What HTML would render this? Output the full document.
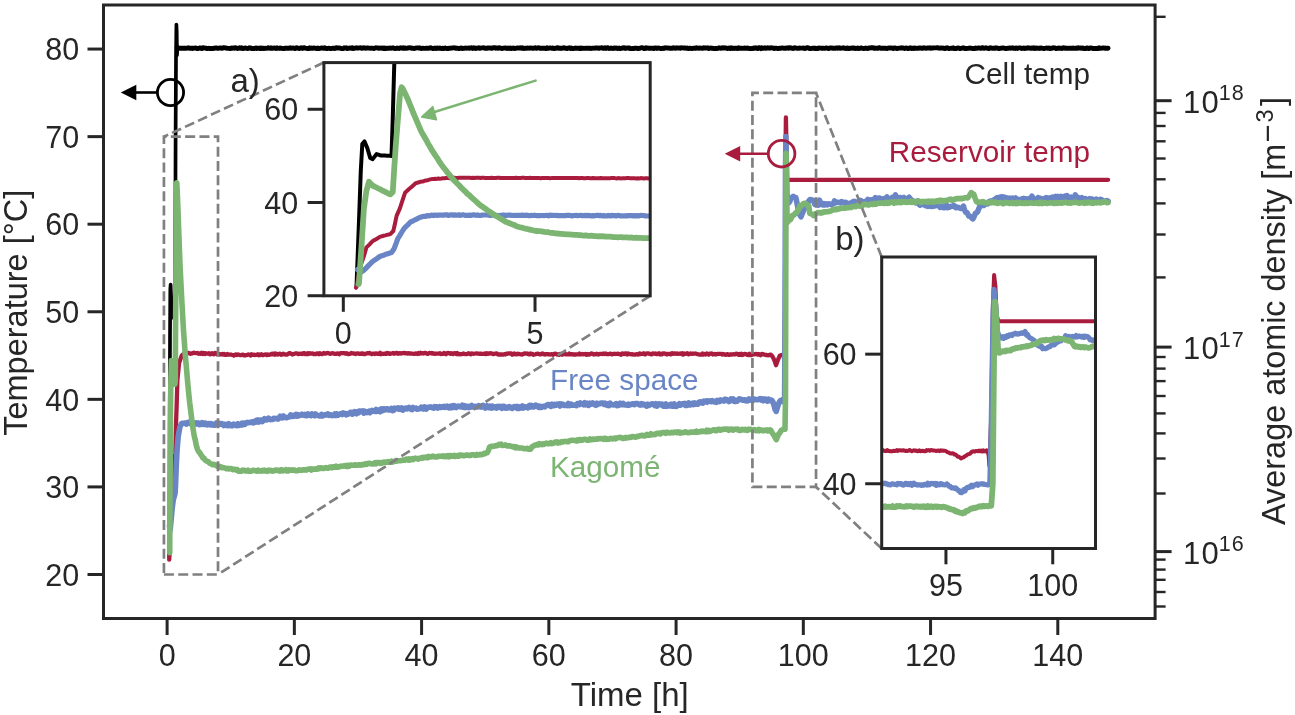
<!DOCTYPE html>
<html><head><meta charset="utf-8"><style>
html,body{margin:0;padding:0;background:#fff;}
body{width:1295px;height:715px;overflow:hidden;}
svg{display:block;will-change:transform;font-family:"Liberation Sans", sans-serif;}
</style></head><body>
<svg width="1295" height="715" viewBox="0 0 1295 715">
<rect x="0" y="0" width="1295" height="715" fill="#fff"/>
<defs><clipPath id="cm"><rect x="103.5" y="5.0" width="1051.6" height="613.5"/></clipPath>
<clipPath id="ca"><rect x="323.90" y="62.60" width="326.30" height="233.20"/></clipPath>
<clipPath id="cb"><rect x="881.70" y="257.00" width="213.80" height="291.50"/></clipPath></defs>
<g clip-path="url(#cm)">
<path d="M169.3 557.1L169.7 434.1L170.0 339.3L170.3 289.4L170.6 284.6L171.1 296.5L171.6 315.5L172.0 317.8L172.6 308.4L173.2 310.8L175.1 311.8L175.3 244.3L175.6 136.6L176.0 57.8L176.4 24.5L176.7 31.5L177.0 55.2L177.4 46.4L178.2 48.2" stroke="#000" stroke-width="3.7" fill="none" stroke-linejoin="round" stroke-linecap="round"/>
<path d="M177.3 47.3L178.2 48.2L179.3 48.2L180.3 48.2L181.3 48.2L182.3 48.2L183.3 48.2L184.4 48.2L185.4 48.2L186.4 48.2L187.4 48.1L188.4 47.8L189.4 48.2L190.5 48.2L191.5 48.1L192.5 48.5L193.5 48.2L194.5 48.1L195.6 47.9L196.6 48.5L197.6 48.4L198.6 48.5L199.6 47.9L200.6 48.0L201.7 48.6L202.7 47.8L203.7 47.8L204.7 48.0L205.7 48.1L206.8 48.5L207.8 48.6L208.8 48.2L209.8 48.6L210.8 48.5L211.9 48.4L212.9 48.6L213.9 48.2L214.9 48.2L215.9 47.9L216.9 48.2L218.0 48.1L219.0 48.2L220.0 48.0L221.0 48.2L222.0 48.4L223.1 47.7L224.1 47.8L225.1 47.9L226.1 48.0L227.1 48.3L228.1 48.4L229.2 48.4L230.2 48.6L231.2 48.0L232.2 48.3L233.2 47.9L234.3 48.3L235.3 47.8L236.3 47.9L237.3 48.6L238.3 48.4L239.3 47.8L240.4 48.2L241.4 47.8L242.4 48.3L243.4 48.6L244.4 48.1L245.5 47.9L246.5 48.4L247.5 48.5L248.5 48.3L249.5 47.8L250.6 48.0L251.6 48.5L252.6 48.4L253.6 48.5L254.6 48.6L255.6 47.9L256.7 48.5L257.7 48.1L258.7 48.2L259.7 48.5L260.7 48.0L261.8 48.5L262.8 48.1L263.8 48.5L264.8 48.3L265.8 48.4L266.8 48.4L267.9 47.8L268.9 47.9L269.9 48.4L270.9 47.8L271.9 48.4L273.0 48.3L274.0 47.9L275.0 48.1L276.0 48.5L277.0 47.8L278.0 48.4L279.1 48.4L280.1 47.9L281.1 48.3L282.1 48.4L283.1 48.6L284.2 48.5L285.2 48.1L286.2 48.4L287.2 48.1L288.2 48.3L289.3 48.2L290.3 47.8L291.3 48.2L292.3 48.1L293.3 47.9L294.3 48.5L295.4 48.5L296.4 47.8L297.4 47.9L298.4 48.4L299.4 48.5L300.5 48.0L301.5 47.8L302.5 48.4L303.5 47.8L304.5 47.8L305.5 48.1L306.6 48.3L307.6 48.5L308.6 48.6L309.6 47.8L310.6 48.4L311.7 48.0L312.7 48.4L313.7 47.9L314.7 48.1L315.7 48.4L316.7 48.5L317.8 48.0L318.8 48.6L319.8 48.4L320.8 48.1L321.8 47.9L322.9 48.1L323.9 48.4L324.9 47.8L325.9 48.4L326.9 48.6L328.0 48.4L329.0 48.2L330.0 48.6L331.0 48.5L332.0 48.3L333.0 48.1L334.1 48.5L335.1 48.3L336.1 47.8L337.1 47.8L338.1 48.0L339.2 48.0L340.2 48.1L341.2 48.5L342.2 48.6L343.2 48.6L344.2 47.8L345.3 48.0L346.3 47.8L347.3 48.6L348.3 48.1L349.3 48.2L350.4 48.0L351.4 48.3L352.4 47.7L353.4 48.6L354.4 48.1L355.4 48.0L356.5 47.8L357.5 48.0L358.5 48.0L359.5 47.9L360.5 47.8L361.6 48.3L362.6 48.0L363.6 47.8L364.6 47.9L365.6 48.3L366.7 47.9L367.7 47.9L368.7 48.1L369.7 48.1L370.7 48.3L371.7 48.1L372.8 48.1L373.8 48.6L374.8 48.1L375.8 47.8L376.8 47.9L377.9 48.0L378.9 48.3L379.9 48.0L380.9 48.1L381.9 48.2L382.9 47.9L384.0 48.5L385.0 48.0L386.0 48.6L387.0 48.1L388.0 48.2L389.1 48.4L390.1 48.0L391.1 48.2L392.1 48.1L393.1 47.8L394.1 48.4L395.2 48.6L396.2 48.4L397.2 48.0L398.2 48.4L399.2 48.5L400.3 47.8L401.3 48.0L402.3 48.2L403.3 47.8L404.3 48.3L405.4 48.0L406.4 48.4L407.4 48.2L408.4 47.9L409.4 47.8L410.4 47.9L411.5 48.3L412.5 48.1L413.5 48.3L414.5 48.5L415.5 48.2L416.6 47.9L417.6 47.9L418.6 48.0L419.6 47.8L420.6 48.4L421.6 48.5L422.7 48.2L423.7 48.4L424.7 48.4L425.7 48.3L426.7 48.1L427.8 48.2L428.8 48.3L429.8 47.9L430.8 47.8L431.8 48.2L432.8 48.6L433.9 48.6L434.9 47.9L435.9 48.6L436.9 48.0L437.9 48.1L439.0 48.4L440.0 47.9L441.0 48.6L442.0 48.5L443.0 48.2L444.1 48.6L445.1 47.9L446.1 48.4L447.1 48.5L448.1 48.6L449.1 48.1L450.2 48.2L451.2 48.1L452.2 48.0L453.2 47.9L454.2 47.8L455.3 48.0L456.3 48.4L457.3 48.2L458.3 48.5L459.3 48.6L460.3 48.2L461.4 48.0L462.4 48.5L463.4 48.4L464.4 48.3L465.4 48.0L466.5 48.2L467.5 48.1L468.5 48.0L469.5 48.3L470.5 47.9L471.5 47.8L472.6 48.5L473.6 47.8L474.6 48.0L475.6 48.5L476.6 48.2L477.7 48.1L478.7 47.8L479.7 48.3L480.7 48.1L481.7 47.9L482.8 47.9L483.8 47.8L484.8 48.2L485.8 48.1L486.8 48.4L487.8 48.0L488.9 47.9L489.9 48.1L490.9 48.0L491.9 48.4L492.9 47.8L494.0 47.8L495.0 47.8L496.0 48.2L497.0 47.9L498.0 48.3L499.0 47.8L500.1 47.9L501.1 48.3L502.1 48.5L503.1 48.2L504.1 48.1L505.2 47.9L506.2 48.2L507.2 48.6L508.2 47.9L509.2 48.6L510.2 47.9L511.3 48.5L512.3 48.3L513.3 47.9L514.3 48.5L515.3 48.5L516.4 48.2L517.4 48.0L518.4 47.9L519.4 48.0L520.4 47.8L521.5 48.2L522.5 47.8L523.5 48.5L524.5 48.4L525.5 48.2L526.5 48.4L527.6 48.0L528.6 48.1L529.6 48.2L530.6 47.9L531.6 48.1L532.7 48.3L533.7 48.3L534.7 47.9L535.7 47.8L536.7 48.4L537.7 47.9L538.8 47.8L539.8 48.2L540.8 48.1L541.8 48.4L542.8 48.2L543.9 48.2L544.9 48.1L545.9 48.6L546.9 47.8L547.9 48.2L548.9 48.3L550.0 47.9L551.0 48.1L552.0 48.2L553.0 48.0L554.0 48.6L555.1 48.2L556.1 48.3L557.1 47.8L558.1 47.8L559.1 48.4L560.2 48.2L561.2 48.5L562.2 48.2L563.2 47.9L564.2 47.8L565.2 48.2L566.3 48.3L567.3 48.5L568.3 48.1L569.3 47.8L570.3 48.5L571.4 47.9L572.4 48.6L573.4 48.5L574.4 48.4L575.4 48.0L576.4 48.3L577.5 48.3L578.5 48.1L579.5 48.5L580.5 48.0L581.5 48.5L582.6 48.2L583.6 48.4L584.6 48.4L585.6 48.2L586.6 48.2L587.7 48.3L588.7 48.3L589.7 48.2L590.7 48.5L591.7 48.4L592.7 48.1L593.8 48.1L594.8 48.2L595.8 47.9L596.8 48.1L597.8 47.9L598.9 48.4L599.9 48.0L600.9 47.9L601.9 47.8L602.9 48.3L603.9 48.3L605.0 47.8L606.0 48.4L607.0 47.7L608.0 47.8L609.0 48.5L610.1 48.4L611.1 48.0L612.1 48.4L613.1 48.5L614.1 47.9L615.1 48.3L616.2 47.9L617.2 48.5L618.2 48.3L619.2 48.0L620.2 48.6L621.3 48.4L622.3 48.0L623.3 47.8L624.3 47.8L625.3 48.5L626.4 48.2L627.4 48.0L628.4 48.2L629.4 48.0L630.4 48.5L631.4 48.6L632.5 48.5L633.5 48.6L634.5 48.1L635.5 48.2L636.5 48.1L637.6 48.5L638.6 48.5L639.6 48.4L640.6 47.9L641.6 47.8L642.6 47.8L643.7 48.5L644.7 48.6L645.7 47.8L646.7 48.2L647.7 48.0L648.8 48.3L649.8 48.2L650.8 48.2L651.8 48.2L652.8 48.1L653.8 48.6L654.9 48.0L655.9 47.9L656.9 48.5L657.9 48.2L658.9 48.0L660.0 48.3L661.0 48.5L662.0 48.5L663.0 48.2L664.0 48.6L665.1 47.8L666.1 47.9L667.1 48.0L668.1 47.9L669.1 48.1L670.1 48.3L671.2 48.1L672.2 48.2L673.2 47.8L674.2 47.9L675.2 48.4L676.3 47.8L677.3 48.0L678.3 47.9L679.3 47.9L680.3 48.3L681.3 47.8L682.4 47.9L683.4 48.0L684.4 48.0L685.4 48.0L686.4 48.3L687.5 48.0L688.5 48.6L689.5 48.3L690.5 48.2L691.5 48.6L692.5 48.3L693.6 48.1L694.6 48.1L695.6 48.4L696.6 47.8L697.6 48.0L698.7 48.3L699.7 48.0L700.7 48.1L701.7 48.2L702.7 48.3L703.8 47.7L704.8 48.1L705.8 48.0L706.8 48.0L707.8 47.8L708.8 48.6L709.9 48.1L710.9 48.0L711.9 48.4L712.9 48.3L713.9 48.6L715.0 48.5L716.0 48.3L717.0 48.5L718.0 48.4L719.0 47.8L720.0 48.1L721.1 48.2L722.1 47.8L723.1 48.1L724.1 47.8L725.1 48.1L726.2 47.9L727.2 48.6L728.2 48.1L729.2 48.0L730.2 48.6L731.2 47.8L732.3 48.5L733.3 48.2L734.3 48.5L735.3 48.2L736.3 48.1L737.4 48.6L738.4 47.8L739.4 48.3L740.4 48.2L741.4 48.1L742.5 48.3L743.5 48.4L744.5 48.0L745.5 48.1L746.5 48.4L747.5 48.0L748.6 48.4L749.6 48.6L750.6 48.4L751.6 48.6L752.6 48.5L753.7 48.0L754.7 48.3L755.7 47.8L756.7 48.0L757.7 48.6L758.7 47.8L759.8 47.8L760.8 48.6L761.8 47.8L762.8 48.2L763.8 48.2L764.9 47.8L765.9 48.4L766.9 48.2L767.9 47.8L768.9 48.0L769.9 48.2L771.0 47.8L772.0 47.9L773.0 48.1L774.0 48.5L775.0 48.1L776.1 48.2L777.1 48.4L778.1 48.6L779.1 48.2L780.1 48.5L781.2 48.2L782.2 48.0L783.2 48.2L784.2 48.4L785.2 48.1L786.2 48.3L787.3 47.9L788.3 48.2L789.3 47.7L790.3 47.8L791.3 48.0L792.4 48.4L793.4 48.5L794.4 47.8L795.4 47.9L796.4 48.1L797.4 48.3L798.5 48.4L799.5 48.0L800.5 48.1L801.5 48.1L802.5 48.1L803.6 48.0L804.6 48.5L805.6 48.4L806.6 47.8L807.6 47.8L808.6 47.9L809.7 48.6L810.7 48.6L811.7 48.4L812.7 48.2L813.7 48.1L814.8 48.5L815.8 48.1L816.8 48.6L817.8 48.5L818.8 48.0L819.9 48.1L820.9 48.1L821.9 48.3L822.9 48.2L823.9 48.4L824.9 48.3L826.0 48.0L827.0 47.9L828.0 48.6L829.0 48.5L830.0 47.9L831.1 48.1L832.1 47.9L833.1 48.4L834.1 48.3L835.1 48.4L836.1 47.9L837.2 48.3L838.2 48.0L839.2 47.8L840.2 48.3L841.2 48.1L842.3 48.0L843.3 47.8L844.3 48.2L845.3 48.3L846.3 48.5L847.3 47.9L848.4 48.6L849.4 48.5L850.4 48.1L851.4 48.2L852.4 48.0L853.5 48.4L854.5 47.9L855.5 48.6L856.5 48.4L857.5 48.0L858.6 48.6L859.6 48.4L860.6 48.0L861.6 48.0L862.6 48.4L863.6 48.5L864.7 48.3L865.7 48.0L866.7 48.3L867.7 48.5L868.7 48.0L869.8 48.1L870.8 47.8L871.8 47.8L872.8 47.8L873.8 48.2L874.8 47.9L875.9 48.4L876.9 48.3L877.9 48.3L878.9 47.8L879.9 47.8L881.0 48.4L882.0 48.3L883.0 48.3L884.0 48.3L885.0 48.3L886.0 48.3L887.1 48.5L888.1 48.1L889.1 47.9L890.1 48.1L891.1 47.9L892.2 48.1L893.2 48.5L894.2 48.0L895.2 47.9L896.2 48.4L897.3 48.6L898.3 48.2L899.3 48.1L900.3 48.1L901.3 47.8L902.3 48.1L903.4 47.9L904.4 48.6L905.4 48.1L906.4 47.9L907.4 48.5L908.5 48.6L909.5 48.0L910.5 47.8L911.5 48.5L912.5 48.1L913.5 48.5L914.6 48.0L915.6 48.1L916.6 48.4L917.6 48.4L918.6 48.0L919.7 48.2L920.7 48.0L921.7 48.3L922.7 48.3L923.7 47.8L924.7 48.0L925.8 48.2L926.8 48.2L927.8 48.0L928.8 48.0L929.8 47.8L930.9 48.3L931.9 47.9L932.9 48.0L933.9 47.9L934.9 47.9L936.0 47.9L937.0 47.8L938.0 47.8L939.0 48.1L940.0 48.2L941.0 48.0L942.1 47.9L943.1 48.3L944.1 48.3L945.1 48.5L946.1 48.0L947.2 47.8L948.2 48.3L949.2 48.5L950.2 48.4L951.2 48.3L952.2 48.4L953.3 47.8L954.3 48.6L955.3 48.4L956.3 48.5L957.3 48.1L958.4 47.9L959.4 48.5L960.4 48.6L961.4 48.2L962.4 48.1L963.4 47.8L964.5 48.6L965.5 48.5L966.5 48.5L967.5 48.4L968.5 48.4L969.6 48.0L970.6 48.1L971.6 48.4L972.6 48.5L973.6 48.4L974.7 48.5L975.7 48.0L976.7 48.3L977.7 48.1L978.7 47.9L979.7 48.2L980.8 48.4L981.8 47.8L982.8 47.8L983.8 48.3L984.8 48.1L985.9 47.8L986.9 48.2L987.9 48.4L988.9 48.6L989.9 47.8L990.9 47.9L992.0 48.3L993.0 48.2L994.0 48.2L995.0 48.4L996.0 47.8L997.1 48.0L998.1 48.4L999.1 48.6L1000.1 48.2L1001.1 48.3L1002.1 47.9L1003.2 48.0L1004.2 48.1L1005.2 48.5L1006.2 48.5L1007.2 48.3L1008.3 48.4L1009.3 47.9L1010.3 48.2L1011.3 48.1L1012.3 47.8L1013.4 48.4L1014.4 48.2L1015.4 48.5L1016.4 47.9L1017.4 48.6L1018.4 47.9L1019.5 47.9L1020.5 47.9L1021.5 48.5L1022.5 48.4L1023.5 48.0L1024.6 48.5L1025.6 48.2L1026.6 48.2L1027.6 47.8L1028.6 48.1L1029.6 47.9L1030.7 48.4L1031.7 47.9L1032.7 48.3L1033.7 47.8L1034.7 48.5L1035.8 47.9L1036.8 48.4L1037.8 48.1L1038.8 48.2L1039.8 48.5L1040.8 47.9L1041.9 48.3L1042.9 48.4L1043.9 48.6L1044.9 48.4L1045.9 48.2L1047.0 48.0L1048.0 48.3L1049.0 48.0L1050.0 48.5L1051.0 48.3L1052.1 48.2L1053.1 47.8L1054.1 47.9L1055.1 48.0L1056.1 48.6L1057.1 48.3L1058.2 48.0L1059.2 48.4L1060.2 48.1L1061.2 48.2L1062.2 48.6L1063.3 47.8L1064.3 47.9L1065.3 48.4L1066.3 48.1L1067.3 48.4L1068.3 48.3L1069.4 48.1L1070.4 48.4L1071.4 48.3L1072.4 48.3L1073.4 48.0L1074.5 48.4L1075.5 48.4L1076.5 48.0L1077.5 48.3L1078.5 47.8L1079.5 48.1L1080.6 48.0L1081.6 48.3L1082.6 47.9L1083.6 48.5L1084.6 48.5L1085.7 48.5L1086.7 48.0L1087.7 48.0L1088.7 48.5L1089.7 48.3L1090.8 47.9L1091.8 48.1L1092.8 48.5L1093.8 48.4L1094.8 48.5L1095.8 48.5L1096.9 48.3L1097.9 48.6L1098.9 47.8L1099.9 48.2L1100.9 48.2L1102.0 48.1L1103.0 48.0L1104.0 47.9L1105.0 48.3L1106.0 48.3L1107.0 48.3L1108.1 48.2" stroke="#000" stroke-width="4.9" fill="none" stroke-linejoin="round" stroke-linecap="round"/>
<path d="M169.2 559.6L169.3 557.8L170.0 517.6L170.5 500.3L170.9 483.8L172.0 471.9L173.2 463.4L174.9 458.7L175.4 452.9L176.0 424.5L176.5 410.4L177.4 380.4L179.1 362.9L180.5 359.1L181.8 355.4L182.9 354.6L184.1 353.7L185.3 352.9L186.3 353.0L187.3 352.8L188.4 352.8L189.4 353.5L190.4 353.8L191.4 353.3L192.4 353.4L193.5 352.7L194.5 352.9L195.5 353.1L196.5 353.1L197.6 353.0L198.6 353.8L199.6 353.4L200.6 353.8L201.6 352.8L202.7 354.0L203.7 353.0L204.7 354.0L205.7 353.2L206.8 353.7L207.8 353.7L208.8 353.1L209.8 354.3L210.8 354.2L211.9 353.1L212.9 353.7L213.9 354.3L214.9 353.0L216.0 353.1L217.0 354.3L218.0 353.8L219.1 354.0L220.1 354.5L221.2 354.3L222.2 353.9L223.3 354.6L224.4 354.0L225.4 354.9L226.5 354.8L227.5 354.0L228.6 354.7L229.7 354.7L230.7 354.5L231.8 354.8L232.9 355.0L233.9 355.6L235.0 354.7L236.0 354.4L237.1 355.1L238.1 354.4L239.1 354.8L240.2 355.2L241.2 355.2L242.2 354.7L243.2 354.7L244.3 355.5L245.3 355.3L246.3 355.1L247.3 354.9L248.3 354.4L249.4 354.8L250.4 355.5L251.4 354.3L252.4 354.9L253.5 354.7L254.5 355.1L255.5 354.8L256.5 354.8L257.5 354.3L258.6 355.2L259.6 354.5L260.6 355.0L261.6 354.3L262.7 355.2L263.7 354.8L264.7 354.7L265.7 354.3L266.7 355.1L267.8 354.5L268.8 354.8L269.8 354.7L270.8 354.4L271.9 353.7L272.9 354.3L273.9 353.6L274.9 354.7L275.9 353.6L277.0 354.4L278.0 354.6L279.0 353.8L280.0 353.6L281.1 354.8L282.1 354.4L283.1 353.7L284.1 354.3L285.1 354.4L286.2 354.7L287.2 354.6L288.2 353.8L289.2 353.2L290.3 353.2L291.3 353.9L292.3 354.5L293.3 354.1L294.4 353.8L295.4 353.4L296.4 353.3L297.4 353.6L298.4 354.2L299.4 353.7L300.5 353.8L301.5 353.6L302.5 354.1L303.5 353.1L304.5 353.2L305.5 354.2L306.6 354.1L307.6 353.2L308.6 354.1L309.6 353.1L310.6 353.7L311.7 353.5L312.7 353.5L313.7 354.1L314.7 354.0L315.7 354.1L316.7 353.5L317.8 353.5L318.8 354.2L319.8 353.2L320.8 353.8L321.8 354.1L322.9 353.8L323.9 353.0L324.9 353.6L325.9 353.5L326.9 353.1L327.9 353.0L329.0 353.3L330.0 353.8L331.0 353.6L332.0 353.1L333.0 353.3L334.1 353.6L335.1 353.9L336.1 353.8L337.1 353.3L338.1 353.6L339.1 354.3L340.2 353.4L341.2 353.1L342.2 353.2L343.2 353.1L344.2 353.1L345.2 353.6L346.3 353.2L347.3 353.8L348.3 354.2L349.3 353.8L350.3 353.9L351.4 353.0L352.4 353.3L353.4 353.5L354.4 353.4L355.4 354.1L356.4 353.5L357.5 353.3L358.5 353.7L359.5 353.9L360.5 353.7L361.5 353.8L362.6 353.3L363.6 354.1L364.6 354.1L365.6 353.8L366.6 353.3L367.6 353.2L368.7 353.3L369.7 352.9L370.7 353.7L371.7 354.2L372.7 353.6L373.8 353.6L374.8 354.0L375.8 353.3L376.8 353.7L377.8 353.9L378.8 353.8L379.9 352.9L380.9 354.2L381.9 353.7L382.9 353.8L383.9 353.9L384.9 353.6L386.0 353.9L387.0 352.9L388.0 353.5L389.0 353.2L390.0 353.9L391.1 353.5L392.1 353.3L393.1 353.0L394.1 353.8L395.1 353.5L396.1 353.0L397.2 353.0L398.2 353.8L399.2 353.4L400.2 353.1L401.2 353.6L402.3 353.2L403.3 353.2L404.3 352.8L405.3 353.3L406.3 353.2L407.3 353.6L408.4 353.1L409.4 353.7L410.4 353.4L411.4 353.6L412.4 353.7L413.5 353.9L414.5 353.8L415.5 353.3L416.5 353.7L417.5 354.0L418.5 353.0L419.6 353.7L420.6 352.8L421.6 353.4L422.6 353.2L423.6 353.5L424.6 352.9L425.7 352.8L426.7 353.7L427.7 353.9L428.7 353.2L429.7 352.9L430.8 353.3L431.8 353.0L432.8 353.6L433.8 353.3L434.8 353.8L435.8 353.6L436.9 353.6L437.9 353.6L438.9 353.6L439.9 353.1L440.9 354.0L442.0 353.9L443.0 353.9L444.0 352.9L445.0 353.5L446.0 354.2L447.0 353.1L448.1 353.0L449.1 353.1L450.1 353.8L451.1 353.2L452.1 353.8L453.2 354.1L454.2 353.1L455.2 353.1L456.2 354.0L457.2 353.1L458.2 354.3L459.3 353.9L460.3 354.3L461.3 354.1L462.3 354.1L463.3 353.4L464.3 353.9L465.4 354.1L466.4 354.1L467.4 353.9L468.4 353.2L469.4 353.5L470.5 354.3L471.5 353.4L472.5 353.7L473.5 353.8L474.5 353.7L475.5 353.5L476.6 353.3L477.6 353.7L478.6 353.6L479.6 353.8L480.6 353.6L481.7 353.9L482.7 353.9L483.7 353.8L484.7 353.5L485.7 354.1L486.7 353.2L487.8 353.8L488.8 353.3L489.8 353.6L490.8 353.2L491.8 353.6L492.8 354.0L493.9 354.0L494.9 353.7L495.9 353.5L496.9 353.4L497.9 354.4L499.0 354.5L500.0 354.5L501.0 354.5L502.0 354.5L503.0 354.6L504.0 354.3L505.1 354.5L506.1 353.7L507.1 353.8L508.1 353.3L509.1 353.3L510.2 353.6L511.2 353.4L512.2 354.7L513.2 354.4L514.2 353.4L515.2 354.0L516.3 354.4L517.3 353.7L518.3 354.1L519.3 354.0L520.3 354.3L521.4 354.4L522.4 354.6L523.4 353.9L524.4 353.4L525.4 353.4L526.4 353.7L527.5 353.5L528.5 354.3L529.5 354.4L530.5 353.5L531.5 354.0L532.5 353.9L533.6 354.8L534.6 354.5L535.6 354.2L536.6 353.8L537.6 353.7L538.7 353.8L539.7 354.4L540.7 354.4L541.7 353.7L542.7 353.5L543.7 354.2L544.8 354.6L545.8 354.0L546.8 354.2L547.8 354.4L548.8 354.2L549.9 354.6L550.9 354.4L551.9 354.1L552.9 354.8L553.9 354.2L554.9 353.6L556.0 353.9L557.0 354.6L558.0 354.3L559.0 354.8L560.0 353.9L561.1 354.0L562.1 354.7L563.1 354.1L564.1 354.1L565.1 354.1L566.1 354.4L567.2 354.4L568.2 354.4L569.2 353.5L570.2 354.4L571.2 354.2L572.2 354.2L573.3 354.6L574.3 354.3L575.3 354.6L576.3 354.4L577.3 354.3L578.4 354.4L579.4 353.5L580.4 354.4L581.4 354.4L582.4 353.9L583.4 354.3L584.5 354.1L585.5 353.9L586.5 354.7L587.5 353.9L588.5 354.7L589.6 354.5L590.6 353.7L591.6 353.4L592.6 353.8L593.6 354.5L594.6 354.2L595.7 354.4L596.7 353.6L597.7 354.4L598.7 354.5L599.7 353.9L600.8 353.9L601.8 353.9L602.8 354.1L603.8 353.4L604.8 354.1L605.8 353.4L606.9 354.2L607.9 354.1L608.9 354.2L609.9 353.7L610.9 353.7L611.9 354.4L613.0 354.0L614.0 353.7L615.0 354.0L616.0 353.8L617.0 353.8L618.1 353.7L619.1 354.2L620.1 354.3L621.1 354.7L622.1 353.4L623.1 353.6L624.2 354.1L625.2 353.3L626.2 353.4L627.2 354.5L628.2 353.5L629.3 354.1L630.3 354.2L631.3 354.3L632.3 354.1L633.3 354.6L634.3 354.6L635.4 354.5L636.4 354.2L637.4 354.4L638.4 354.5L639.4 353.5L640.5 354.1L641.5 353.9L642.5 353.8L643.5 353.3L644.5 354.4L645.5 354.3L646.6 353.4L647.6 353.3L648.6 353.3L649.6 353.9L650.6 354.1L651.6 354.3L652.7 353.3L653.7 353.5L654.7 353.8L655.7 353.5L656.7 354.2L657.8 353.8L658.8 353.3L659.8 354.4L660.8 353.7L661.8 354.3L662.8 353.4L663.9 353.4L664.9 353.6L665.9 353.9L666.9 354.5L667.9 353.8L669.0 354.0L670.0 354.0L671.0 354.4L672.0 353.2L673.0 353.8L674.0 353.7L675.1 353.3L676.1 353.8L677.1 353.3L678.1 353.8L679.1 353.8L680.2 353.4L681.2 354.0L682.2 353.3L683.2 354.5L684.2 353.5L685.3 353.8L686.3 353.7L687.3 353.2L688.3 354.3L689.3 354.1L690.3 353.5L691.4 353.6L692.4 353.9L693.4 353.6L694.4 353.7L695.4 353.5L696.5 353.8L697.5 354.2L698.5 354.3L699.5 354.6L700.5 354.6L701.6 354.7L702.6 353.4L703.6 354.6L704.6 353.9L705.6 354.6L706.7 353.4L707.7 354.0L708.7 354.6L709.7 353.7L710.7 353.6L711.8 353.5L712.8 354.5L713.8 354.3L714.8 353.9L715.8 354.5L716.9 354.1L717.9 353.9L718.9 353.8L719.9 353.8L720.9 353.9L721.9 354.5L723.0 353.9L724.0 354.3L725.0 354.7L726.0 354.9L727.0 354.1L728.1 354.5L729.1 354.9L730.1 354.3L731.1 354.4L732.1 354.6L733.2 354.2L734.2 354.3L735.2 354.3L736.2 353.7L737.2 353.8L738.3 354.7L739.3 353.9L740.3 354.7L741.3 353.8L742.3 355.0L743.4 354.7L744.4 353.8L745.4 354.2L746.4 354.2L747.4 354.9L748.4 355.0L749.5 353.8L750.5 355.1L751.5 355.0L752.5 354.6L753.5 354.1L754.6 354.3L755.6 353.8L756.6 354.2L757.6 354.6L758.6 354.0L759.7 354.8L760.7 355.2L761.7 354.0L762.7 354.1L763.7 354.4L764.8 354.7L765.8 355.0L766.8 355.0L767.8 355.3L768.8 355.2L769.9 354.7L770.9 354.7L772.1 355.9L773.4 358.2L774.7 361.1L776.0 365.2L777.9 359.9L779.8 355.6L780.8 355.3L781.8 354.9L782.9 354.9L783.9 354.7L784.2 361.7L784.4 374.8L785.0 311.8L785.5 154.1L785.9 117.4L786.2 132.3L786.6 171.7L787.1 179.8L787.2 179.8" stroke="#AA1C3E" stroke-width="4.3" fill="none" stroke-linejoin="round" stroke-linecap="round"/>
<path d="M787.1 179.8L788.1 179.8L789.1 179.8L790.2 179.8L791.2 179.8L792.2 179.8L793.2 179.8L794.2 179.8L795.2 179.8L796.3 179.8L797.3 179.8L798.3 179.8L799.3 179.8L800.3 179.8L801.4 179.8L802.4 179.8L803.4 179.8L804.4 179.8L805.4 179.8L806.5 179.8L807.5 179.8L808.5 179.8L809.5 179.8L810.5 179.8L811.6 179.8L812.6 179.8L813.6 179.8L814.6 179.8L815.6 179.8L816.6 179.8L817.7 179.8L818.7 179.8L819.7 179.8L820.7 179.8L821.7 179.8L822.8 179.8L823.8 179.8L824.8 179.8L825.8 179.8L826.8 179.8L827.9 179.8L828.9 179.8L829.9 179.8L830.9 179.8L831.9 179.8L832.9 179.8L834.0 179.8L835.0 179.8L836.0 179.8L837.0 179.8L838.0 179.8L839.1 179.8L840.1 179.8L841.1 179.8L842.1 179.8L843.1 179.8L844.2 179.8L845.2 179.8L846.2 179.8L847.2 179.8L848.2 179.8L849.3 179.8L850.3 179.8L851.3 179.8L852.3 179.8L853.3 179.8L854.3 179.8L855.4 179.8L856.4 179.8L857.4 179.8L858.4 179.8L859.4 179.8L860.5 179.8L861.5 179.8L862.5 179.8L863.5 179.8L864.5 179.8L865.6 179.8L866.6 179.8L867.6 179.8L868.6 179.8L869.6 179.8L870.7 179.8L871.7 179.8L872.7 179.8L873.7 179.8L874.7 179.8L875.7 179.8L876.8 179.8L877.8 179.8L878.8 179.8L879.8 179.8L880.8 179.8L881.9 179.8L882.9 179.8L883.9 179.8L884.9 179.8L885.9 179.8L887.0 179.8L888.0 179.8L889.0 179.8L890.0 179.8L891.0 179.8L892.0 179.8L893.1 179.8L894.1 179.8L895.1 179.8L896.1 179.8L897.1 179.8L898.2 179.8L899.2 179.8L900.2 179.8L901.2 179.8L902.2 179.8L903.3 179.8L904.3 179.8L905.3 179.8L906.3 179.8L907.3 179.8L908.4 179.8L909.4 179.8L910.4 179.8L911.4 179.8L912.4 179.8L913.4 179.8L914.5 179.8L915.5 179.8L916.5 179.8L917.5 179.8L918.5 179.8L919.6 179.8L920.6 179.8L921.6 179.8L922.6 179.8L923.6 179.8L924.7 179.8L925.7 179.8L926.7 179.8L927.7 179.8L928.7 179.8L929.7 179.8L930.8 179.8L931.8 179.8L932.8 179.8L933.8 179.8L934.8 179.8L935.9 179.8L936.9 179.8L937.9 179.8L938.9 179.8L939.9 179.8L941.0 179.8L942.0 179.8L943.0 179.8L944.0 179.8L945.0 179.8L946.1 179.8L947.1 179.8L948.1 179.8L949.1 179.8L950.1 179.8L951.1 179.8L952.2 179.8L953.2 179.8L954.2 179.8L955.2 179.8L956.2 179.8L957.3 179.8L958.3 179.8L959.3 179.8L960.3 179.8L961.3 179.8L962.4 179.8L963.4 179.8L964.4 179.8L965.4 179.8L966.4 179.8L967.5 179.8L968.5 179.8L969.5 179.8L970.5 179.8L971.5 179.8L972.5 179.8L973.6 179.8L974.6 179.8L975.6 179.8L976.6 179.8L977.6 179.8L978.7 179.8L979.7 179.8L980.7 179.8L981.7 179.8L982.7 179.8L983.8 179.8L984.8 179.8L985.8 179.8L986.8 179.8L987.8 179.8L988.8 179.8L989.9 179.8L990.9 179.8L991.9 179.8L992.9 179.8L993.9 179.8L995.0 179.8L996.0 179.8L997.0 179.8L998.0 179.8L999.0 179.8L1000.1 179.8L1001.1 179.8L1002.1 179.8L1003.1 179.8L1004.1 179.8L1005.2 179.8L1006.2 179.8L1007.2 179.8L1008.2 179.8L1009.2 179.8L1010.2 179.8L1011.3 179.8L1012.3 179.8L1013.3 179.8L1014.3 179.8L1015.3 179.8L1016.4 179.8L1017.4 179.8L1018.4 179.8L1019.4 179.8L1020.4 179.8L1021.5 179.8L1022.5 179.8L1023.5 179.8L1024.5 179.8L1025.5 179.8L1026.5 179.8L1027.6 179.8L1028.6 179.8L1029.6 179.8L1030.6 179.8L1031.6 179.8L1032.7 179.8L1033.7 179.8L1034.7 179.8L1035.7 179.8L1036.7 179.8L1037.8 179.8L1038.8 179.8L1039.8 179.8L1040.8 179.8L1041.8 179.8L1042.9 179.8L1043.9 179.8L1044.9 179.8L1045.9 179.8L1046.9 179.8L1047.9 179.8L1049.0 179.8L1050.0 179.8L1051.0 179.8L1052.0 179.8L1053.0 179.8L1054.1 179.8L1055.1 179.8L1056.1 179.8L1057.1 179.8L1058.1 179.8L1059.2 179.8L1060.2 179.8L1061.2 179.8L1062.2 179.8L1063.2 179.8L1064.2 179.8L1065.3 179.8L1066.3 179.8L1067.3 179.8L1068.3 179.8L1069.3 179.8L1070.4 179.8L1071.4 179.8L1072.4 179.8L1073.4 179.8L1074.4 179.8L1075.5 179.8L1076.5 179.8L1077.5 179.8L1078.5 179.8L1079.5 179.8L1080.6 179.8L1081.6 179.8L1082.6 179.8L1083.6 179.8L1084.6 179.8L1085.6 179.8L1086.7 179.8L1087.7 179.8L1088.7 179.8L1089.7 179.8L1090.7 179.8L1091.8 179.8L1092.8 179.8L1093.8 179.8L1094.8 179.8L1095.8 179.8L1096.9 179.8L1097.9 179.8L1098.9 179.8L1099.9 179.8L1100.9 179.8L1102.0 179.8L1103.0 179.8L1104.0 179.8L1105.0 179.8L1106.0 179.8L1107.0 179.8L1108.1 179.8" stroke="#AA1C3E" stroke-width="4.3" fill="none" stroke-linejoin="round" stroke-linecap="round"/>
<path d="M169.5 525.4L170.0 530.7L170.5 526.5L171.2 519.3L172.0 509.9L173.2 500.3L175.1 493.2L175.5 486.2L176.2 467.2L177.2 448.2L178.2 436.4L179.9 426.9L181.6 423.5L182.8 423.3L184.0 423.2L185.3 423.0L186.3 424.1L187.4 422.6L188.5 422.7L189.5 422.0L190.6 423.8L191.6 423.9L192.7 422.7L193.8 423.0L194.8 424.0L195.9 423.0L196.9 423.8L198.0 422.9L199.1 424.6L200.1 423.7L201.1 424.4L202.2 422.7L203.2 424.2L204.2 424.5L205.2 423.1L206.2 423.6L207.3 424.9L208.3 423.8L209.3 423.6L210.3 424.9L211.3 423.7L212.4 425.1L213.4 424.6L214.4 425.3L215.4 425.0L216.4 423.0L217.5 424.6L218.5 423.0L219.5 424.5L220.5 424.1L221.5 423.5L222.6 424.0L223.6 425.5L224.6 424.3L225.6 424.2L226.6 425.5L227.7 425.7L228.7 423.7L229.7 424.7L230.7 425.6L231.7 424.9L232.8 425.6L233.8 424.1L234.8 424.9L235.8 424.7L236.8 425.6L237.9 423.6L238.9 425.3L239.9 424.6L240.9 425.1L242.0 423.1L243.0 424.6L244.0 423.3L245.0 424.3L246.0 423.1L247.1 422.4L248.1 422.6L249.1 422.6L250.1 422.4L251.1 422.4L252.2 421.8L253.2 422.9L254.2 421.7L255.2 422.2L256.3 420.4L257.3 420.0L258.3 422.1L259.3 421.8L260.3 420.1L261.4 420.3L262.4 421.6L263.4 419.6L264.4 418.8L265.5 420.0L266.5 420.0L267.5 419.3L268.5 418.1L269.5 419.1L270.6 419.6L271.7 419.3L272.7 419.5L273.8 418.2L274.8 418.4L275.9 418.8L276.9 418.3L278.0 419.1L279.0 418.2L280.1 416.3L281.2 417.2L282.2 417.8L283.3 415.9L284.3 417.3L285.4 417.4L286.4 417.8L287.5 417.4L288.5 417.1L289.6 416.8L290.7 415.0L291.7 416.4L292.8 415.6L293.8 416.3L294.8 415.3L295.8 414.5L296.9 416.1L297.9 414.8L298.9 415.8L300.0 415.3L301.0 415.2L302.0 414.2L303.1 414.7L304.1 415.3L305.1 414.4L306.1 415.6L307.2 415.6L308.2 414.0L309.2 415.1L310.3 414.4L311.3 415.6L312.3 414.0L313.3 414.8L314.4 415.7L315.4 413.9L316.4 415.1L317.5 415.4L318.5 415.6L319.5 416.0L320.6 415.7L321.6 414.4L322.6 415.8L323.6 415.4L324.7 414.9L325.7 414.6L326.7 415.0L327.8 414.0L328.8 415.3L329.8 415.0L330.8 414.8L331.9 415.6L332.9 415.3L333.9 415.5L335.0 413.9L336.0 415.4L337.0 414.0L338.0 415.2L339.1 414.4L340.1 413.9L341.1 413.8L342.2 414.5L343.2 412.9L344.2 413.5L345.2 413.6L346.3 414.9L347.3 413.8L348.3 414.1L349.4 413.5L350.4 412.2L351.4 412.2L352.4 414.2L353.5 412.5L354.5 411.7L355.5 412.7L356.6 413.7L357.6 411.6L358.6 412.7L359.6 411.1L360.7 411.3L361.7 411.3L362.7 410.9L363.7 413.1L364.8 411.1L365.8 412.3L366.8 412.6L367.9 411.9L368.9 411.2L369.9 412.7L370.9 411.4L372.0 410.4L373.0 411.1L374.0 410.9L375.1 411.4L376.1 409.5L377.1 411.3L378.1 410.1L379.2 410.1L380.2 411.7L381.2 408.9L382.2 410.8L383.3 408.8L384.3 408.8L385.3 409.8L386.4 408.7L387.4 408.8L388.4 410.0L389.4 409.8L390.5 410.0L391.5 408.4L392.5 410.7L393.6 410.4L394.6 408.2L395.6 408.5L396.7 408.7L397.7 408.0L398.7 409.1L399.7 408.2L400.8 409.2L401.8 408.0L402.8 410.1L403.9 409.1L404.9 408.6L405.9 408.0L406.9 408.9L408.0 408.2L409.0 407.4L410.0 408.8L411.1 409.3L412.1 409.7L413.1 407.5L414.1 408.4L415.2 408.6L416.2 408.2L417.2 409.2L418.3 408.9L419.3 408.8L420.3 408.7L421.4 407.1L422.4 408.6L423.4 409.0L424.4 406.9L425.5 407.6L426.5 409.0L427.5 407.2L428.6 407.2L429.6 407.2L430.6 406.8L431.6 407.5L432.7 407.7L433.7 408.1L434.7 406.7L435.7 407.0L436.8 406.8L437.8 408.1L438.8 407.6L439.8 406.7L440.9 407.5L441.9 406.9L442.9 407.2L443.9 406.4L445.0 407.4L446.0 407.0L447.0 406.1L448.0 407.4L449.0 407.8L450.1 406.5L451.1 407.8L452.1 405.9L453.1 407.4L454.2 405.7L455.2 406.6L456.2 407.6L457.2 406.6L458.3 406.1L459.3 406.6L460.3 406.2L461.3 406.9L462.4 405.3L463.4 407.3L464.4 405.6L465.4 407.6L466.4 406.3L467.5 406.4L468.5 407.5L469.6 407.4L470.6 406.2L471.6 405.4L472.7 407.0L473.7 406.8L474.8 406.6L475.8 406.3L476.8 407.0L477.9 407.0L478.9 405.7L480.0 406.5L481.0 407.1L482.0 405.9L483.1 405.4L484.1 407.0L485.2 408.1L486.2 407.3L487.2 405.8L488.3 407.7L489.3 407.7L490.3 406.2L491.4 408.0L492.4 406.1L493.5 407.7L494.5 407.3L495.5 406.8L496.6 408.1L497.6 406.4L498.7 407.3L499.7 406.4L500.7 406.5L501.8 408.3L502.8 406.4L503.9 406.4L504.9 408.0L505.9 407.1L507.0 408.1L508.0 407.3L509.1 406.7L510.1 407.7L511.1 407.3L512.2 408.4L513.2 407.5L514.2 406.5L515.2 407.0L516.3 406.5L517.3 408.4L518.3 406.6L519.3 408.3L520.3 407.0L521.4 407.8L522.4 406.0L523.4 408.0L524.4 407.0L525.4 406.9L526.5 407.1L527.5 407.9L528.5 406.3L529.5 405.4L530.5 407.0L531.6 405.5L532.6 406.9L533.6 407.0L534.6 406.5L535.6 405.1L536.7 405.6L537.7 405.9L538.7 407.4L539.7 406.3L540.7 407.4L541.8 407.2L542.8 406.3L543.8 406.6L544.8 406.9L545.8 405.8L546.9 405.0L547.9 404.6L548.9 404.6L549.9 405.8L550.9 406.4L552.0 404.3L553.0 405.7L554.0 405.8L555.0 404.5L556.0 405.2L557.1 404.1L558.1 404.7L559.1 404.0L560.1 406.0L561.1 403.9L562.2 404.9L563.2 404.4L564.2 405.4L565.2 405.5L566.2 405.3L567.3 405.6L568.3 403.5L569.3 405.7L570.3 405.3L571.3 404.2L572.4 405.3L573.4 405.2L574.4 405.0L575.4 405.0L576.4 405.6L577.5 403.6L578.5 403.8L579.5 404.6L580.5 403.0L581.5 403.9L582.6 404.0L583.6 404.7L584.6 402.8L585.6 404.7L586.6 403.2L587.6 403.2L588.7 405.4L589.7 403.2L590.7 404.3L591.7 404.1L592.7 402.9L593.8 404.3L594.8 404.8L595.8 405.3L596.8 403.2L597.8 404.3L598.9 403.6L599.9 403.8L600.9 403.0L601.9 403.1L602.9 403.1L603.9 404.3L605.0 403.2L606.0 404.8L607.0 405.3L608.0 404.0L609.0 405.6L610.1 403.1L611.1 404.8L612.1 404.6L613.1 404.9L614.1 404.9L615.2 404.3L616.2 403.6L617.2 405.7L618.2 404.9L619.2 405.1L620.2 403.3L621.3 404.7L622.3 404.7L623.3 403.4L624.3 404.8L625.3 404.9L626.4 404.8L627.4 405.3L628.4 404.1L629.4 405.2L630.4 404.6L631.4 404.4L632.5 403.9L633.5 404.0L634.5 404.7L635.5 403.5L636.5 403.5L637.6 403.6L638.6 404.2L639.6 404.9L640.6 405.1L641.6 403.8L642.7 404.8L643.7 404.1L644.7 405.1L645.7 405.2L646.7 406.1L647.7 404.2L648.8 405.4L649.8 404.9L650.8 404.3L651.8 404.0L652.8 403.7L653.9 404.5L654.9 405.6L655.9 403.8L656.9 406.1L657.9 405.2L659.0 403.9L660.0 404.1L661.0 404.8L662.0 404.1L663.0 405.9L664.0 406.3L665.1 405.6L666.1 404.0L667.1 406.3L668.1 405.6L669.1 405.1L670.2 405.9L671.2 404.2L672.2 406.2L673.2 406.3L674.2 403.9L675.3 405.2L676.3 406.4L677.3 405.7L678.3 405.1L679.4 403.8L680.4 405.1L681.4 404.4L682.5 403.7L683.5 404.1L684.5 403.4L685.5 405.4L686.6 404.0L687.6 405.2L688.6 402.9L689.7 405.0L690.7 404.7L691.7 403.7L692.7 403.1L693.8 404.6L694.8 402.9L695.8 404.2L696.9 403.5L697.9 404.1L698.9 402.2L700.0 401.9L701.0 401.9L702.0 403.0L703.0 403.1L704.1 401.1L705.1 401.4L706.1 400.9L707.2 402.2L708.2 400.9L709.2 401.3L710.2 400.9L711.3 401.6L712.3 400.7L713.3 401.4L714.4 401.9L715.4 401.2L716.4 402.3L717.5 400.5L718.5 401.3L719.5 401.6L720.5 399.9L721.6 400.6L722.6 400.5L723.7 401.0L724.7 399.3L725.8 399.3L726.8 400.6L727.9 400.2L729.0 401.6L730.0 400.7L731.1 399.0L732.1 400.2L733.2 398.9L734.2 401.4L735.3 401.4L736.3 401.2L737.4 401.1L738.5 399.3L739.5 398.7L740.6 399.2L741.6 399.6L742.7 400.2L743.7 400.1L744.8 399.8L745.8 400.8L746.8 400.1L747.9 400.8L748.9 399.0L749.9 399.8L751.0 400.2L752.0 399.0L753.0 400.4L754.0 399.0L755.1 399.4L756.1 399.6L757.1 399.7L758.1 399.6L759.2 399.0L760.2 398.7L761.2 399.9L762.3 398.9L763.3 400.8L764.3 399.0L765.3 399.1L766.4 399.8L767.4 401.2L768.4 399.1L769.5 400.5L770.5 400.6L771.5 400.2L772.8 401.7L774.1 405.5L775.1 409.5L776.2 411.4L778.2 404.6L779.3 402.2L780.4 400.6L781.5 401.3L782.5 399.6L783.5 401.3L784.6 400.6L785.0 329.3L785.5 171.7L785.9 136.6L786.2 154.1L786.9 193.6L787.4 200.1L788.8 202.7L789.8 201.5L790.8 198.1L792.0 197.3L793.3 196.4L794.5 197.5L795.8 197.5L797.0 203.2L798.8 212.3L799.9 215.1L801.0 216.8L802.8 212.3L804.8 207.7L806.8 203.2L807.8 203.0L808.9 200.8L810.1 199.5L811.3 199.8L813.4 200.5L814.8 204.4L816.1 204.9L817.3 204.1L818.4 205.1L819.5 200.2L820.6 202.9L821.7 204.5L822.8 204.9L823.9 203.7L825.0 204.9L826.1 204.0L827.2 204.8L828.3 203.9L829.4 204.0L830.4 204.1L831.4 204.8L832.5 203.7L833.5 203.8L834.5 200.8L835.5 202.6L836.5 202.2L837.5 202.4L838.6 202.5L839.6 202.4L840.6 202.9L841.6 201.7L842.7 202.1L843.7 202.2L844.8 203.0L845.8 202.3L846.9 203.3L847.9 203.9L849.0 203.6L850.0 203.3L851.1 203.8L852.1 202.3L853.2 201.6L854.2 201.4L855.3 203.4L856.3 202.4L857.4 201.7L858.4 201.6L859.5 202.0L860.5 200.5L861.6 201.0L862.6 202.4L863.7 201.9L864.7 201.8L865.8 201.3L866.8 201.0L867.9 199.4L868.9 200.5L870.0 200.9L871.0 199.9L872.1 201.0L873.1 199.9L874.2 199.5L875.3 197.6L876.3 200.7L877.4 198.9L878.5 198.0L879.5 198.1L880.6 200.3L881.7 199.0L882.7 200.1L883.8 199.6L884.9 198.2L885.9 198.3L887.0 196.9L888.1 200.0L889.1 198.8L890.2 199.6L891.3 199.7L892.3 197.5L893.4 199.6L894.5 197.5L895.5 194.8L896.6 198.4L897.6 197.7L898.7 199.4L899.7 197.5L900.7 197.8L901.8 198.1L902.8 198.1L903.8 197.5L904.8 199.5L905.9 199.3L906.9 199.5L907.9 198.2L909.0 197.2L910.0 198.4L911.1 199.8L912.2 200.5L913.3 201.6L914.4 201.9L915.5 202.7L916.6 201.4L917.8 200.8L918.9 204.0L919.9 205.1L920.9 203.0L921.9 204.4L922.9 204.4L923.9 203.4L925.0 205.3L926.0 205.9L927.0 205.2L928.0 206.2L929.0 205.3L930.1 204.4L931.1 206.4L932.1 206.4L933.1 205.4L934.1 206.1L935.1 205.8L936.2 205.5L937.2 205.4L938.2 205.3L939.2 206.2L940.2 207.4L941.3 206.3L942.3 207.4L943.3 207.6L944.4 207.6L945.4 206.1L946.5 205.0L947.5 207.6L948.5 207.2L949.6 207.1L950.6 206.5L951.7 206.2L952.7 206.0L953.8 205.5L954.8 206.3L955.9 207.8L957.0 207.6L958.0 207.3L959.1 207.8L960.2 208.2L961.2 208.4L962.3 208.2L963.4 206.1L964.5 209.8L965.6 212.2L966.7 212.3L967.8 214.0L968.9 216.1L970.0 216.3L971.4 217.5L972.9 218.9L974.0 216.9L975.2 213.6L976.4 212.8L977.5 211.9L978.7 209.0L979.8 206.3L980.8 206.2L981.9 204.6L982.9 204.0L983.9 205.4L985.0 203.0L986.0 204.0L987.0 204.0L988.1 203.7L989.1 201.5L990.1 201.1L991.2 201.2L992.2 200.7L993.2 200.5L994.3 199.5L995.3 200.0L996.3 198.1L997.3 197.7L998.4 197.8L999.4 197.3L1000.4 197.8L1001.4 196.8L1002.5 196.9L1003.5 198.8L1004.5 197.2L1005.5 197.7L1006.5 197.8L1007.5 199.8L1008.6 199.4L1009.6 198.1L1010.6 199.8L1011.6 199.6L1012.6 198.2L1013.7 199.4L1014.7 200.0L1015.7 198.0L1016.7 200.3L1017.7 200.5L1018.7 199.5L1019.8 199.7L1020.8 199.5L1021.8 199.0L1022.8 200.4L1023.8 198.5L1024.9 199.1L1025.9 198.7L1026.9 199.3L1027.9 199.2L1028.9 198.7L1030.0 199.9L1031.0 199.7L1032.0 196.2L1033.0 198.9L1034.0 199.7L1035.1 199.2L1036.1 199.7L1037.1 199.9L1038.1 197.6L1039.2 198.2L1040.2 198.3L1041.2 199.6L1042.2 199.3L1043.2 198.7L1044.3 198.6L1045.3 198.9L1046.3 197.7L1047.4 198.2L1048.4 198.0L1049.4 199.1L1050.5 197.9L1051.5 198.7L1052.5 197.3L1053.6 198.7L1054.6 198.7L1055.6 196.5L1056.7 198.1L1057.7 196.4L1058.7 197.4L1059.8 197.0L1060.8 196.3L1061.8 197.4L1062.9 196.8L1063.9 198.2L1064.9 196.3L1066.0 198.3L1067.0 195.7L1068.0 196.9L1069.1 197.4L1070.1 198.3L1071.2 197.2L1072.2 198.0L1073.2 198.0L1074.3 197.9L1075.3 194.9L1076.4 197.2L1077.4 198.3L1078.4 197.5L1079.5 198.3L1080.5 198.7L1081.6 197.8L1082.6 199.1L1083.6 198.5L1084.7 199.5L1085.7 198.7L1086.8 199.5L1087.8 199.5L1088.9 200.8L1089.9 198.7L1091.0 199.2L1092.1 199.0L1093.1 200.5L1094.2 200.5L1095.3 200.2L1096.3 199.1L1097.4 201.0L1098.5 201.3L1099.5 201.0L1100.6 199.3L1101.7 199.8L1102.7 202.0L1103.8 201.4L1104.9 201.0L1105.9 201.2L1107.0 200.5L1108.1 201.3" stroke="#6A85C6" stroke-width="5.6" fill="none" stroke-linejoin="round" stroke-linecap="round"/>
<path d="M169.7 552.6L169.7 550.8L170.1 481.5L170.5 410.5L170.9 377.6L171.4 360.5L172.0 367.6L173.2 374.8L174.9 384.2L175.3 379.5L175.5 339.3L175.8 291.8L176.2 244.8L176.5 193.6L176.8 182.9L176.9 184.8L177.8 205.2L178.7 230.2L180.0 265.3L181.8 300.3L183.5 330.4L185.3 355.4L186.4 367.3L187.5 380.4L188.6 392.3L189.7 402.8L190.8 411.3L191.9 420.4L193.0 428.4L194.1 435.4L195.2 439.7L196.3 445.4L197.4 449.1L198.5 451.4L199.6 452.5L200.7 454.4L201.8 455.8L202.9 458.0L204.0 458.1L205.1 460.0L206.1 460.7L207.2 461.3L208.3 461.7L209.4 463.0L210.5 463.6L211.6 464.0L212.8 464.8L214.0 464.4L215.2 464.9L216.4 465.5L217.6 466.4L218.7 467.1L219.9 466.3L221.0 467.1L222.1 467.8L223.3 467.6L224.4 467.9L225.5 468.2L226.5 468.8L227.6 468.4L228.7 468.9L229.8 468.8L230.9 468.5L231.9 469.1L233.0 469.6L234.1 469.2L235.2 469.2L236.3 470.1L237.3 469.7L238.4 471.2L239.5 470.7L240.5 471.2L241.6 471.2L242.6 470.1L243.7 470.4L244.7 470.4L245.7 471.0L246.8 470.7L247.8 470.2L248.8 471.3L249.9 471.2L250.9 471.3L251.9 470.8L253.0 470.2L254.0 470.6L255.0 470.8L256.1 470.7L257.1 471.2L258.1 470.1L259.2 470.9L260.2 471.1L261.3 471.0L262.3 470.3L263.3 471.0L264.4 470.1L265.4 470.9L266.4 470.8L267.5 471.3L268.5 470.1L269.5 470.7L270.6 470.3L271.6 470.7L272.6 471.2L273.6 470.6L274.6 470.8L275.7 470.1L276.7 470.0L277.7 470.2L278.7 470.8L279.8 471.1L280.8 469.9L281.8 469.8L282.8 470.9L283.8 470.4L284.9 470.4L285.9 469.7L286.9 471.0L287.9 471.0L289.0 469.8L290.0 470.2L291.0 470.3L292.0 469.9L293.0 470.1L294.1 469.9L295.1 470.5L296.1 470.8L297.1 470.8L298.1 470.4L299.2 469.9L300.2 470.3L301.2 470.3L302.2 469.9L303.3 469.7L304.3 470.0L305.3 469.8L306.3 470.1L307.3 469.3L308.4 469.2L309.4 469.0L310.4 468.9L311.4 470.0L312.5 469.0L313.5 469.3L314.5 469.2L315.5 468.9L316.6 469.3L317.6 469.1L318.6 467.9L319.6 468.7L320.7 467.8L321.7 468.0L322.7 468.5L323.7 468.4L324.7 467.9L325.8 467.6L326.8 468.0L327.8 468.3L328.8 468.1L329.9 467.0L330.9 467.1L331.9 467.8L332.9 466.7L334.0 467.0L335.0 467.2L336.0 466.3L337.0 467.3L338.1 467.3L339.1 466.6L340.1 466.7L341.1 466.1L342.2 466.2L343.2 466.2L344.2 465.6L345.2 466.2L346.3 465.5L347.3 466.5L348.3 465.4L349.4 466.1L350.4 465.3L351.4 465.0L352.4 465.2L353.5 465.2L354.5 465.1L355.5 464.7L356.6 465.2L357.6 465.3L358.6 464.7L359.6 464.7L360.7 465.2L361.7 464.5L362.7 464.5L363.7 464.8L364.8 464.0L365.8 463.8L366.8 464.3L367.9 463.5L368.9 463.2L369.9 463.6L370.9 463.8L372.0 463.9L373.0 464.0L374.0 463.7L375.1 462.6L376.1 463.8L377.1 462.6L378.1 462.8L379.2 462.6L380.2 463.4L381.2 462.6L382.2 463.1L383.3 462.3L384.3 462.1L385.3 462.4L386.4 462.0L387.4 462.1L388.4 461.5L389.4 462.3L390.5 462.2L391.5 461.1L392.5 462.1L393.6 461.5L394.6 461.4L395.6 460.6L396.7 461.2L397.7 460.8L398.7 460.8L399.7 460.7L400.8 460.6L401.8 460.4L402.8 460.1L403.9 460.2L404.9 460.1L405.9 459.3L406.9 459.1L408.0 460.0L409.0 458.9L410.0 460.1L411.1 459.5L412.1 458.6L413.1 459.5L414.1 458.7L415.2 458.1L416.2 458.5L417.2 458.6L418.3 459.1L419.3 458.3L420.3 458.2L421.4 457.6L422.4 458.1L423.4 457.4L424.4 457.8L425.5 457.3L426.5 457.0L427.5 457.8L428.6 456.5L429.6 457.1L430.6 456.9L431.6 456.8L432.7 456.1L433.7 456.6L434.7 456.6L435.8 457.0L436.8 457.0L437.8 456.2L438.9 456.5L439.9 456.3L440.9 456.2L442.0 456.1L443.0 456.6L444.0 455.8L445.0 456.4L446.1 456.7L447.1 455.7L448.1 455.6L449.2 456.7L450.2 455.5L451.2 455.8L452.3 456.3L453.3 455.9L454.3 455.3L455.4 456.4L456.4 455.6L457.4 456.2L458.4 456.3L459.5 455.1L460.5 455.0L461.5 455.4L462.6 455.2L463.6 455.7L464.6 455.6L465.7 455.3L466.7 455.0L467.7 455.1L468.7 455.4L469.8 455.2L470.8 455.4L471.8 454.8L472.9 454.7L473.9 454.8L474.9 455.4L476.0 455.3L477.0 454.4L478.0 455.0L479.0 455.0L480.1 454.3L481.1 454.8L482.1 454.5L483.1 454.2L484.1 453.3L485.2 453.6L486.2 452.8L487.2 452.8L488.4 450.4L489.6 446.9L490.6 446.4L491.7 446.2L492.7 446.5L493.8 446.3L494.8 446.1L495.9 445.5L496.9 445.7L498.0 445.4L499.0 444.4L500.0 444.6L501.1 444.2L502.2 445.5L503.3 445.2L504.4 445.2L505.5 444.9L506.6 445.7L507.7 445.9L508.8 445.8L509.9 445.9L511.0 446.2L512.1 446.5L513.2 446.9L514.3 446.6L515.4 447.8L516.5 447.0L517.5 447.9L518.6 447.9L519.7 448.0L520.8 448.0L521.9 448.0L522.9 448.2L524.0 448.7L525.1 448.8L526.2 448.6L527.3 448.3L528.4 449.3L529.4 449.3L530.6 449.2L531.7 447.2L532.9 446.4L534.0 445.7L535.2 445.2L536.3 444.6L537.3 444.6L538.4 445.0L539.4 443.7L540.4 444.3L541.5 444.6L542.5 443.8L543.5 444.5L544.5 443.9L545.6 443.5L546.6 443.1L547.6 443.7L548.7 443.8L549.7 443.5L550.7 442.7L551.8 443.6L552.8 443.4L553.8 443.0L554.9 442.1L555.9 442.1L556.9 441.9L557.9 443.0L559.0 442.3L560.0 442.7L561.0 442.0L562.1 441.6L563.1 441.9L564.1 441.5L565.2 441.4L566.2 441.6L567.2 441.6L568.3 441.7L569.3 440.9L570.3 440.5L571.3 440.4L572.4 440.3L573.4 440.3L574.4 440.5L575.5 440.6L576.5 441.0L577.5 440.0L578.6 440.7L579.6 439.6L580.6 439.6L581.7 440.3L582.7 439.9L583.7 439.3L584.7 439.4L585.8 439.3L586.8 440.2L587.8 440.0L588.9 440.1L589.9 438.9L590.9 439.8L591.9 439.5L593.0 439.0L594.0 439.5L595.0 439.1L596.1 439.1L597.1 439.3L598.1 438.5L599.2 438.8L600.2 438.7L601.2 438.6L602.2 438.8L603.3 439.3L604.3 438.2L605.3 438.2L606.4 439.3L607.4 438.9L608.4 439.1L609.4 439.1L610.5 438.4L611.5 438.6L612.5 438.9L613.6 438.4L614.6 438.0L615.6 438.8L616.6 438.0L617.7 437.9L618.7 437.6L619.7 437.4L620.8 437.5L621.8 438.1L622.8 438.5L623.9 438.1L624.9 438.3L625.9 437.3L626.9 437.9L628.0 437.6L629.0 437.6L630.0 437.1L631.1 437.4L632.1 436.5L633.2 436.8L634.2 436.7L635.3 437.2L636.3 436.9L637.4 436.2L638.4 436.4L639.4 436.0L640.5 435.5L641.5 435.6L642.6 435.2L643.6 435.7L644.7 436.0L645.7 435.6L646.8 434.5L647.8 435.3L648.8 435.3L649.9 435.3L650.9 433.8L652.0 434.8L653.0 434.8L654.1 434.3L655.1 434.6L656.2 433.5L657.2 433.4L658.2 433.6L659.3 433.0L660.3 433.9L661.4 433.1L662.4 432.6L663.4 432.8L664.5 432.6L665.5 433.4L666.5 432.3L667.6 432.2L668.6 432.8L669.6 433.0L670.7 432.7L671.7 432.4L672.7 432.7L673.7 432.6L674.8 432.0L675.8 432.3L676.8 432.7L677.9 431.9L678.9 432.1L679.9 433.1L681.0 432.4L682.0 432.7L683.0 432.6L684.0 432.5L685.1 431.8L686.1 432.1L687.1 432.6L688.2 432.8L689.2 432.6L690.2 432.3L691.3 432.0L692.3 432.0L693.3 432.1L694.4 431.9L695.4 432.2L696.4 431.3L697.4 432.3L698.5 431.8L699.5 431.9L700.6 431.4L701.6 431.0L702.7 431.5L703.7 431.1L704.8 431.6L705.8 431.8L706.9 430.3L707.9 431.5L709.0 430.4L710.0 431.3L711.1 430.9L712.1 430.5L713.2 429.8L714.2 429.9L715.3 430.5L716.3 430.8L717.4 429.6L718.4 429.5L719.5 429.2L720.5 430.2L721.6 429.6L722.6 429.3L723.6 429.4L724.7 429.1L725.7 429.1L726.7 429.2L727.7 429.1L728.8 430.2L729.8 429.0L730.8 429.5L731.9 429.1L732.9 430.2L733.9 429.7L734.9 429.2L736.0 429.1L737.0 429.6L738.0 429.2L739.1 430.5L740.1 430.4L741.1 430.2L742.1 429.3L743.2 429.6L744.2 430.0L745.2 429.3L746.3 429.9L747.3 430.4L748.3 429.3L749.3 429.6L750.4 429.3L751.4 429.6L752.4 430.0L753.4 430.0L754.5 429.5L755.5 430.6L756.5 430.8L757.5 430.4L758.6 429.5L759.6 430.7L760.6 429.8L761.6 430.2L762.7 430.7L763.7 430.7L764.7 430.0L765.7 430.5L766.8 429.8L767.8 431.0L768.8 430.3L769.8 429.9L770.9 430.4L772.1 432.8L773.4 434.4L774.9 437.3L776.4 439.6L777.4 436.9L778.4 434.4L779.8 432.8L781.2 430.3L782.5 429.7L783.8 429.0L785.0 429.2L785.5 399.3L785.9 224.2L786.1 153.3L786.5 173.4L787.0 215.4L787.4 222.5L788.8 220.3L789.8 220.0L790.8 219.2L792.3 215.6L793.6 215.3L794.8 214.1L795.8 212.7L796.8 212.3L798.3 210.1L799.8 205.5L801.1 205.9L802.3 205.0L803.5 203.6L804.8 203.2L806.8 204.4L807.8 205.6L808.9 206.5L809.8 213.5L811.1 213.6L812.4 214.6L813.8 215.6L815.6 213.5L816.6 213.5L817.7 212.5L818.7 212.7L819.8 212.6L820.8 213.2L821.8 212.3L822.9 212.6L823.9 211.7L825.0 211.9L826.0 211.9L827.0 211.8L828.1 211.7L829.1 211.3L830.2 211.3L831.2 210.8L832.3 210.2L833.3 209.6L834.3 209.5L835.4 209.8L836.4 208.8L837.5 209.4L838.5 209.1L839.6 208.7L840.6 208.5L841.7 208.2L842.7 208.2L843.8 207.8L844.9 208.3L845.9 208.1L847.0 207.8L848.1 207.5L849.1 207.6L850.2 207.0L851.3 207.5L852.3 206.8L853.4 206.6L854.5 206.3L855.5 206.7L856.6 205.9L857.7 206.0L858.7 205.2L859.8 206.1L860.9 205.6L861.9 204.9L863.0 205.1L864.0 204.4L865.0 204.5L866.1 204.3L867.1 204.8L868.1 205.0L869.1 204.9L870.1 204.2L871.1 204.1L872.2 204.3L873.2 204.5L874.2 203.5L875.2 204.2L876.2 204.2L877.2 203.2L878.3 203.2L879.3 203.3L880.3 203.0L881.3 203.2L882.3 203.0L883.4 203.3L884.4 203.5L885.4 202.9L886.5 202.3L887.5 203.4L888.6 202.4L889.7 203.0L890.7 202.3L891.8 202.0L892.9 202.1L893.9 203.2L895.0 201.9L896.1 202.8L897.1 202.7L898.2 201.6L899.3 201.7L900.3 202.6L901.4 201.6L902.5 202.4L903.5 201.8L904.6 201.5L905.7 202.5L906.7 202.3L907.8 201.8L908.8 202.3L909.9 202.3L911.0 201.2L912.0 202.4L913.1 202.0L914.2 201.3L915.2 202.5L916.3 201.8L917.4 201.3L918.4 201.2L919.5 201.3L920.5 202.4L921.6 202.4L922.7 201.4L923.7 201.8L924.8 201.8L925.9 201.5L926.9 201.4L928.0 202.1L929.1 201.1L930.1 201.8L931.1 202.0L932.2 201.1L933.2 202.1L934.2 202.1L935.3 201.2L936.3 200.9L937.3 200.9L938.3 201.6L939.4 200.3L940.4 200.2L941.4 200.2L942.5 200.4L943.5 201.2L944.5 200.5L945.5 200.8L946.6 200.6L947.6 200.2L948.6 199.6L949.7 199.8L950.7 199.2L951.7 200.0L952.7 200.3L953.8 199.2L954.8 199.5L956.2 198.5L957.7 198.6L958.8 198.5L959.8 198.8L960.9 198.2L962.0 198.7L963.1 198.4L964.2 198.0L965.3 197.8L966.4 197.7L967.5 197.9L968.7 196.7L970.0 194.6L971.3 192.7L972.5 193.5L973.8 194.4L975.1 198.2L976.4 201.4L977.5 202.2L978.7 202.2L979.8 202.0L980.8 202.2L981.9 201.9L982.9 201.5L984.0 202.6L985.0 202.2L986.1 202.7L987.1 202.9L988.2 202.7L989.2 202.5L990.3 202.0L991.3 202.8L992.3 201.9L993.4 202.2L994.4 202.8L995.5 202.1L996.5 203.0L997.6 203.4L998.6 202.9L999.7 202.7L1000.7 202.6L1001.8 202.9L1002.8 203.6L1003.8 203.6L1004.8 202.7L1005.9 202.3L1006.9 202.9L1007.9 202.5L1009.0 203.4L1010.0 203.4L1011.0 203.0L1012.1 202.3L1013.1 203.5L1014.1 202.9L1015.2 202.7L1016.2 203.6L1017.2 202.5L1018.3 203.3L1019.3 202.5L1020.3 202.8L1021.4 203.5L1022.4 203.3L1023.4 203.0L1024.4 203.5L1025.5 202.6L1026.5 203.0L1027.5 203.4L1028.6 203.3L1029.6 202.7L1030.6 203.0L1031.7 202.9L1032.7 203.3L1033.7 203.2L1034.8 203.3L1035.8 202.9L1036.8 203.0L1037.9 203.4L1038.9 203.6L1039.9 202.3L1040.9 202.3L1042.0 203.6L1043.0 202.4L1044.0 203.2L1045.1 202.9L1046.1 202.9L1047.1 203.5L1048.1 203.1L1049.2 203.0L1050.2 202.9L1051.2 202.9L1052.3 203.1L1053.3 202.9L1054.3 203.5L1055.4 202.6L1056.4 202.8L1057.4 203.4L1058.4 203.0L1059.5 202.9L1060.5 202.9L1061.5 203.3L1062.6 202.9L1063.6 202.8L1064.6 202.2L1065.6 202.4L1066.7 202.5L1067.7 203.1L1068.7 202.9L1069.8 202.9L1070.8 203.2L1071.8 202.8L1072.9 202.5L1073.9 202.5L1074.9 202.2L1076.0 202.5L1077.0 202.4L1078.0 202.9L1079.1 203.2L1080.1 203.0L1081.2 202.8L1082.2 202.8L1083.2 202.8L1084.3 203.4L1085.3 202.1L1086.3 202.9L1087.4 203.0L1088.4 202.2L1089.4 202.8L1090.5 202.3L1091.5 203.2L1092.5 202.6L1093.6 203.3L1094.6 202.6L1095.6 202.2L1096.7 202.9L1097.7 202.4L1098.7 202.3L1099.8 202.7L1100.8 203.0L1101.9 202.3L1102.9 202.0L1103.9 201.9L1105.0 201.8L1106.0 202.0L1107.0 202.7L1108.1 202.5" stroke="#7CB572" stroke-width="5.6" fill="none" stroke-linejoin="round" stroke-linecap="round"/>
</g>
<path d="M163.93 574.48 H218.01 V136.63 H163.93 Z" stroke="#808080" stroke-width="2.7" fill="none" stroke-dasharray="10 4.3"/>
<path d="M752.42 486.91 H816.04 V92.85 H752.42 Z" stroke="#808080" stroke-width="2.7" fill="none" stroke-dasharray="10 4.3"/>
<path d="M323.90 62.60 L163.93 136.63" stroke="#808080" stroke-width="2.7" fill="none" stroke-dasharray="10 4.3"/>
<path d="M650.20 295.80 L218.01 574.48" stroke="#808080" stroke-width="2.7" fill="none" stroke-dasharray="10 4.3"/>
<path d="M881.70 257.00 L816.04 92.85" stroke="#808080" stroke-width="2.7" fill="none" stroke-dasharray="10 4.3"/>
<path d="M881.70 548.50 L816.04 486.91" stroke="#808080" stroke-width="2.7" fill="none" stroke-dasharray="10 4.3"/>
<rect x="103.5" y="5.0" width="1051.6" height="613.5" fill="none" stroke="#262626" stroke-width="3.0"/>
<line x1="87.5" y1="574.48" x2="103.5" y2="574.48" stroke="#262626" stroke-width="3.0"/>
<text x="79.3" y="585.68" font-size="30.5" text-anchor="end" fill="#262626">20</text>
<line x1="87.5" y1="486.91" x2="103.5" y2="486.91" stroke="#262626" stroke-width="3.0"/>
<text x="79.3" y="498.11" font-size="30.5" text-anchor="end" fill="#262626">30</text>
<line x1="87.5" y1="399.34" x2="103.5" y2="399.34" stroke="#262626" stroke-width="3.0"/>
<text x="79.3" y="410.54" font-size="30.5" text-anchor="end" fill="#262626">40</text>
<line x1="87.5" y1="311.77" x2="103.5" y2="311.77" stroke="#262626" stroke-width="3.0"/>
<text x="79.3" y="322.97" font-size="30.5" text-anchor="end" fill="#262626">50</text>
<line x1="87.5" y1="224.20" x2="103.5" y2="224.20" stroke="#262626" stroke-width="3.0"/>
<text x="79.3" y="235.40" font-size="30.5" text-anchor="end" fill="#262626">60</text>
<line x1="87.5" y1="136.63" x2="103.5" y2="136.63" stroke="#262626" stroke-width="3.0"/>
<text x="79.3" y="147.83" font-size="30.5" text-anchor="end" fill="#262626">70</text>
<line x1="87.5" y1="49.06" x2="103.5" y2="49.06" stroke="#262626" stroke-width="3.0"/>
<text x="79.3" y="60.26" font-size="30.5" text-anchor="end" fill="#262626">80</text>
<line x1="167.11" y1="618.5" x2="167.11" y2="635.0" stroke="#262626" stroke-width="3.0"/>
<text x="167.11" y="665.8" font-size="30.5" text-anchor="middle" fill="#262626">0</text>
<line x1="294.35" y1="618.5" x2="294.35" y2="635.0" stroke="#262626" stroke-width="3.0"/>
<text x="294.35" y="665.8" font-size="30.5" text-anchor="middle" fill="#262626">20</text>
<line x1="421.59" y1="618.5" x2="421.59" y2="635.0" stroke="#262626" stroke-width="3.0"/>
<text x="421.59" y="665.8" font-size="30.5" text-anchor="middle" fill="#262626">40</text>
<line x1="548.84" y1="618.5" x2="548.84" y2="635.0" stroke="#262626" stroke-width="3.0"/>
<text x="548.84" y="665.8" font-size="30.5" text-anchor="middle" fill="#262626">60</text>
<line x1="676.08" y1="618.5" x2="676.08" y2="635.0" stroke="#262626" stroke-width="3.0"/>
<text x="676.08" y="665.8" font-size="30.5" text-anchor="middle" fill="#262626">80</text>
<line x1="803.32" y1="618.5" x2="803.32" y2="635.0" stroke="#262626" stroke-width="3.0"/>
<text x="803.32" y="665.8" font-size="30.5" text-anchor="middle" fill="#262626">100</text>
<line x1="930.56" y1="618.5" x2="930.56" y2="635.0" stroke="#262626" stroke-width="3.0"/>
<text x="930.56" y="665.8" font-size="30.5" text-anchor="middle" fill="#262626">120</text>
<line x1="1057.80" y1="618.5" x2="1057.80" y2="635.0" stroke="#262626" stroke-width="3.0"/>
<text x="1057.80" y="665.8" font-size="30.5" text-anchor="middle" fill="#262626">140</text>
<line x1="1155.1" y1="100.7" x2="1171.6" y2="100.7" stroke="#262626" stroke-width="3.0"/>
<text x="1183.0" y="112.6" font-size="31" fill="#262626" letter-spacing="1.2">10<tspan dx="-1.2" dy="-12.2" font-size="21.5" letter-spacing="1">18</tspan></text>
<line x1="1155.1" y1="347.1" x2="1171.6" y2="347.1" stroke="#262626" stroke-width="3.0"/>
<text x="1183.0" y="359.0" font-size="31" fill="#262626" letter-spacing="1.2">10<tspan dx="-1.2" dy="-12.2" font-size="21.5" letter-spacing="1">17</tspan></text>
<line x1="1155.1" y1="551.6" x2="1171.6" y2="551.6" stroke="#262626" stroke-width="3.0"/>
<text x="1183.0" y="563.5" font-size="31" fill="#262626" letter-spacing="1.2">10<tspan dx="-1.2" dy="-12.2" font-size="21.5" letter-spacing="1">16</tspan></text>
<line x1="1155.1" y1="16.8" x2="1165.6" y2="16.8" stroke="#262626" stroke-width="2.4"/>
<line x1="1155.1" y1="112.9" x2="1165.6" y2="112.9" stroke="#262626" stroke-width="2.4"/>
<line x1="1155.1" y1="126.0" x2="1165.6" y2="126.0" stroke="#262626" stroke-width="2.4"/>
<line x1="1155.1" y1="141.3" x2="1165.6" y2="141.3" stroke="#262626" stroke-width="2.4"/>
<line x1="1155.1" y1="158.5" x2="1165.6" y2="158.5" stroke="#262626" stroke-width="2.4"/>
<line x1="1155.1" y1="179.3" x2="1165.6" y2="179.3" stroke="#262626" stroke-width="2.4"/>
<line x1="1155.1" y1="203.4" x2="1165.6" y2="203.4" stroke="#262626" stroke-width="2.4"/>
<line x1="1155.1" y1="234.5" x2="1165.6" y2="234.5" stroke="#262626" stroke-width="2.4"/>
<line x1="1155.1" y1="277.4" x2="1165.6" y2="277.4" stroke="#262626" stroke-width="2.4"/>
<line x1="1155.1" y1="357.0" x2="1165.6" y2="357.0" stroke="#262626" stroke-width="2.4"/>
<line x1="1155.1" y1="368.6" x2="1165.6" y2="368.6" stroke="#262626" stroke-width="2.4"/>
<line x1="1155.1" y1="381.1" x2="1165.6" y2="381.1" stroke="#262626" stroke-width="2.4"/>
<line x1="1155.1" y1="396.0" x2="1165.6" y2="396.0" stroke="#262626" stroke-width="2.4"/>
<line x1="1155.1" y1="413.4" x2="1165.6" y2="413.4" stroke="#262626" stroke-width="2.4"/>
<line x1="1155.1" y1="433.4" x2="1165.6" y2="433.4" stroke="#262626" stroke-width="2.4"/>
<line x1="1155.1" y1="458.5" x2="1165.6" y2="458.5" stroke="#262626" stroke-width="2.4"/>
<line x1="1155.1" y1="493.5" x2="1165.6" y2="493.5" stroke="#262626" stroke-width="2.4"/>
<line x1="1155.1" y1="559.6" x2="1165.6" y2="559.6" stroke="#262626" stroke-width="2.4"/>
<line x1="1155.1" y1="569.6" x2="1165.6" y2="569.6" stroke="#262626" stroke-width="2.4"/>
<line x1="1155.1" y1="579.8" x2="1165.6" y2="579.8" stroke="#262626" stroke-width="2.4"/>
<line x1="1155.1" y1="592.0" x2="1165.6" y2="592.0" stroke="#262626" stroke-width="2.4"/>
<line x1="1155.1" y1="606.5" x2="1165.6" y2="606.5" stroke="#262626" stroke-width="2.4"/>
<text x="629.8" y="705.6" font-size="33.0" text-anchor="middle" fill="#262626">Time [h]</text>
<text transform="translate(27.3,312.8) rotate(-90)" font-size="32.5" text-anchor="middle" fill="#262626">Temperature [°C]</text>
<text transform="translate(1285.3,524.9) rotate(-90)" font-size="32.4" fill="#262626">Average atomic density [m</text>
<text transform="translate(1277.7,142.8) rotate(-90)" font-size="31" fill="#262626">−</text>
<text transform="translate(1273.4,122.5) rotate(-90)" font-size="23.6" fill="#262626">3</text>
<text transform="translate(1284.3,106.0) rotate(-90)" font-size="32.4" fill="#262626">]</text>
<text x="1090" y="83.6" font-size="29.7" text-anchor="end" fill="#262626">Cell temp</text>
<text x="1090" y="161.6" font-size="29.7" text-anchor="end" fill="#AA1C3E">Reservoir temp</text>
<text x="550" y="389.8" font-size="29.7" fill="#6A85C6">Free space</text>
<text x="550" y="477.3" font-size="29.7" fill="#7CB572">Kagomé</text>
<text x="230.5" y="92.3" font-size="33" fill="#262626">a)</text>
<text x="835.2" y="250.0" font-size="33" fill="#262626">b)</text>
<circle cx="170.5" cy="92.45" r="13.1" fill="none" stroke="#000" stroke-width="2.8"/><line x1="157.4" y1="92.5" x2="132.8" y2="92.5" stroke="#000" stroke-width="2.6"/><path d="M120.8 92.5 L136.3 84.7 L136.3 100.2 Z" fill="#000"/>
<circle cx="781.6" cy="153.70" r="13.3" fill="none" stroke="#AA1C3E" stroke-width="2.8"/><line x1="768.3" y1="153.7" x2="736.7" y2="153.7" stroke="#AA1C3E" stroke-width="2.6"/><path d="M724.7 153.7 L740.2 145.9 L740.2 161.5 Z" fill="#AA1C3E"/>
<rect x="323.90" y="62.60" width="326.30" height="233.20" fill="#fff"/>
<g clip-path="url(#ca)">
<path d="M356.5 286.5L359.0 221.0L360.8 170.5L362.3 144.0L364.4 141.4L367.2 147.8L370.2 157.9L372.7 159.1L374.6 156.6L376.5 154.1L378.4 154.7L380.3 155.4L381.9 155.4L383.5 155.5L385.1 155.6L386.7 155.7L388.3 155.7L389.9 155.8L391.5 155.9L392.7 120.0L394.3 62.7L397.0 20.7L399.3 3.0L400.8 6.7L402.7 19.3L405.4 14.6L407.1 15.0L408.8 15.3L410.4 15.6" stroke="#000" stroke-width="4.0" fill="none" stroke-linejoin="round" stroke-linecap="round"/>
<path d="M356.0 287.8L356.5 286.9L358.5 276.2L360.6 265.4L362.3 260.8L363.9 256.2L366.4 247.4L368.0 245.9L369.6 244.3L371.1 242.7L372.7 241.1L374.6 240.0L376.5 238.9L378.4 237.8L380.3 236.6L382.0 236.2L383.6 235.8L385.3 235.4L387.0 234.9L388.7 234.5L390.3 234.1L393.3 231.0L395.0 223.5L396.6 215.9L398.2 212.1L399.9 208.4L401.6 203.1L403.4 197.7L405.2 192.4L406.9 190.9L408.7 189.3L410.5 187.8L412.3 186.2L414.0 184.7L415.8 183.1L417.4 182.7L419.0 182.3L420.6 181.7L422.2 181.6L423.7 181.3L425.3 180.5L426.9 180.4L428.5 180.0L430.1 179.4L431.7 179.1L433.3 179.1L434.9 178.8L436.5 178.9L438.2 178.5L439.8 178.7L441.4 178.5L443.1 178.2L444.7 178.2L446.3 178.0L448.0 178.0L449.6 178.2L451.2 177.8L452.9 177.8L454.4 177.8L455.9 177.9L457.5 177.9L459.0 177.7L460.6 177.8L462.1 177.7L463.6 177.7L465.2 177.7L466.7 177.8L468.3 177.8L469.8 177.8L471.3 177.9L472.9 177.7L474.4 177.9L476.0 177.7L477.5 177.7L479.0 177.8L480.6 178.0L482.1 177.7L483.7 177.8L485.2 178.0L486.7 178.0L488.3 177.9L489.8 178.1L491.4 177.7L492.9 177.9L494.5 177.9L496.0 177.9L497.5 177.8L499.1 177.7L500.6 178.0L502.2 178.0L503.7 177.9L505.2 178.0L506.8 177.9L508.3 177.9L509.9 178.0L511.4 177.9L512.9 177.9L514.5 178.1L516.0 177.8L517.6 178.0L519.1 178.0L520.6 178.0L522.2 177.8L523.7 177.8L525.3 178.0L526.8 178.0L528.3 178.1L529.9 177.8L531.4 178.1L533.0 178.0L534.5 178.0L536.0 178.1L537.6 178.0L539.1 178.1L540.7 178.2L542.2 178.0L543.7 177.9L545.3 178.0L546.8 178.1L548.4 177.9L549.9 178.2L551.4 178.1L553.0 177.9L554.5 177.9L556.1 178.1L557.6 177.9L559.2 178.0L560.7 178.0L562.2 178.0L563.8 177.9L565.3 178.0L566.9 178.1L568.4 178.0L569.9 178.0L571.5 178.1L573.0 178.0L574.6 178.0L576.1 178.0L577.6 177.9L579.2 178.3L580.7 178.1L582.3 178.0L583.8 178.2L585.3 178.2L586.9 178.0L588.4 178.1L590.0 178.2L591.5 178.3L593.0 178.0L594.6 178.2L596.1 178.3L597.7 178.2L599.2 178.2L600.7 178.0L602.3 178.3L603.8 178.2L605.4 178.3L606.9 178.2L608.4 178.3L610.0 178.2L611.5 178.1L613.1 178.0L614.6 178.1L616.1 178.4L617.7 178.2L619.2 178.1L620.8 178.4L622.3 178.3L623.9 178.2L625.4 178.2L626.9 178.1L628.5 178.1L630.0 178.2L631.6 178.3L633.1 178.3L634.6 178.3L636.2 178.4L637.7 178.2L639.3 178.4L640.8 178.1L642.3 178.2L643.9 178.4L645.4 178.2L647.0 178.2L648.5 178.4L650.0 178.3L651.6 178.3L653.1 178.5L654.6 178.2L656.2 178.5L657.7 178.3L659.2 178.1L660.8 178.2L662.3 178.4L663.8 178.3L665.4 178.5L666.9 178.4L668.4 178.2L670.0 178.3L671.5 178.6L673.0 178.4L674.6 178.4L676.1 178.5L677.6 178.3L679.2 178.3L680.7 178.4L682.2 178.5L683.8 178.3L685.3 178.5L686.8 178.6L688.4 178.5" stroke="#AA1C3E" stroke-width="4.0" fill="none" stroke-linejoin="round" stroke-linecap="round"/>
<path d="M357.5 269.6L359.0 271.0L360.6 272.4L362.3 271.3L363.9 270.2L365.8 268.3L367.7 266.4L369.4 264.7L371.0 263.0L372.7 261.4L374.6 260.1L376.5 258.8L378.4 257.5L380.3 256.2L381.9 255.7L383.5 255.2L385.1 254.6L386.7 254.1L388.3 253.6L389.9 253.0L391.5 252.5L394.1 248.7L396.0 243.7L397.8 238.6L399.4 236.1L400.9 233.6L402.5 231.0L404.1 228.5L405.6 226.9L407.2 225.4L408.8 223.8L410.3 222.2L412.0 221.4L413.7 220.5L415.4 219.7L417.0 218.9L418.7 218.0L420.4 217.2L422.1 216.7L423.7 216.3L425.4 216.5L427.1 215.6L428.8 215.9L430.5 215.4L432.1 215.2L433.7 215.6L435.3 215.1L436.9 215.5L438.5 215.1L440.1 215.1L441.7 215.0L443.3 215.2L444.9 214.9L446.5 214.8L448.1 215.4L449.7 215.1L451.3 214.8L452.9 215.1L454.4 214.9L455.9 215.1L457.5 215.2L459.0 214.8L460.6 215.4L462.1 214.9L463.7 214.9L465.2 215.4L466.7 215.3L468.3 215.3L469.8 215.1L471.4 215.3L472.9 214.9L474.4 214.9L476.0 215.3L477.5 214.9L479.1 215.5L480.6 215.5L482.2 215.1L483.7 215.0L485.2 215.0L486.8 214.9L488.3 215.0L489.9 215.4L491.4 215.1L493.0 215.0L494.5 215.5L496.0 215.3L497.6 215.5L499.1 215.5L500.7 215.3L502.2 215.2L503.7 215.0L505.3 215.6L506.8 215.3L508.4 215.0L509.9 215.1L511.5 215.3L513.0 215.5L514.5 215.3L516.1 215.5L517.6 215.3L519.2 215.3L520.7 215.4L522.3 215.2L523.8 215.4L525.3 215.4L526.9 215.2L528.4 215.6L530.0 215.6L531.5 215.4L533.1 215.5L534.6 215.2L536.1 215.6L537.7 215.5L539.2 215.8L540.8 215.5L542.3 215.5L543.8 215.6L545.4 215.5L546.9 215.3L548.5 215.8L550.0 215.1L551.5 215.3L553.1 215.3L554.6 215.5L556.1 215.4L557.7 215.6L559.2 215.6L560.8 215.7L562.3 215.7L563.8 215.7L565.4 215.6L566.9 215.3L568.4 215.3L570.0 215.4L571.5 215.9L573.1 215.7L574.6 215.5L576.1 215.4L577.7 215.6L579.2 215.5L580.7 215.3L582.3 215.7L583.8 215.7L585.4 215.4L586.9 215.7L588.4 215.4L590.0 215.7L591.5 215.9L593.0 215.6L594.6 215.9L596.1 215.4L597.7 215.4L599.2 215.6L600.7 215.4L602.3 215.8L603.8 215.7L605.3 215.9L606.9 216.0L608.4 215.4L610.0 216.0L611.5 215.4L613.0 215.6L614.6 215.5L616.1 216.0L617.6 215.4L619.2 215.5L620.7 216.0L622.3 215.9L623.8 216.0L625.3 215.7L626.9 216.0L628.4 215.5L629.9 215.7L631.5 215.6L633.0 215.9L634.6 215.6L636.1 215.8L637.6 215.7L639.2 215.8L640.7 215.4L642.3 215.5L643.8 215.5L645.3 215.9L646.9 216.0L648.4 216.0L649.9 216.1L651.5 215.5L653.0 216.0L654.6 215.6L656.1 216.0L657.6 215.7L659.2 216.0L660.7 216.0L662.2 215.7L663.8 215.8L665.3 215.5L666.9 216.0L668.4 216.0L669.9 216.2L671.5 216.1L673.0 215.5L674.5 215.8L676.1 215.9L677.6 216.0L679.2 215.7L680.7 215.8L682.2 216.1L683.8 216.2L685.3 216.1L686.8 215.7L688.4 215.9" stroke="#6A85C6" stroke-width="5.2" fill="none" stroke-linejoin="round" stroke-linecap="round"/>
<path d="M358.7 284.1L359.0 283.1L361.5 246.2L363.9 208.5L366.4 190.9L369.0 181.8L370.8 183.7L372.7 185.6L374.6 186.6L376.5 187.5L378.4 188.5L380.3 189.4L382.0 190.3L383.6 191.1L385.3 191.9L387.0 192.8L388.7 193.6L390.3 194.4L392.8 191.9L394.1 170.5L395.8 145.3L397.8 120.2L400.1 93.0L401.6 87.3L402.6 88.3L404.3 91.9L406.1 95.5L407.8 99.2L409.6 103.6L411.4 108.0L413.1 112.5L414.7 116.2L416.3 119.9L417.9 123.7L419.5 127.4L421.1 131.1L422.9 134.3L424.6 137.2L426.4 140.3L428.1 143.7L429.9 146.5L431.7 149.8L433.4 152.4L435.2 155.3L436.9 157.6L438.7 160.6L440.4 163.2L442.2 165.8L444.0 168.1L445.8 170.2L447.5 172.6L449.3 174.6L451.1 176.8L452.9 179.1L454.5 180.8L456.2 182.3L457.8 184.1L459.5 185.6L461.1 187.6L462.8 189.2L464.5 190.8L466.1 192.4L467.8 194.1L469.4 195.2L471.0 196.9L472.7 198.5L474.3 199.9L476.0 201.4L477.6 203.0L479.2 204.4L480.9 205.7L482.6 206.7L484.2 208.0L485.9 209.0L487.5 210.2L489.2 211.5L490.8 212.4L492.5 213.7L494.2 214.9L495.8 215.8L497.5 216.6L499.1 217.8L500.8 218.7L502.4 219.7L504.1 220.7L505.7 221.7L507.4 222.4L509.0 223.0L510.7 223.7L512.4 224.5L514.0 224.9L515.7 225.8L517.3 226.5L519.0 227.0L520.6 227.4L522.3 227.7L524.0 228.2L525.6 228.6L527.3 229.0L528.9 229.5L530.6 229.7L532.2 230.2L533.8 230.5L535.3 230.8L536.9 231.0L538.5 231.2L540.0 231.2L541.6 231.3L543.1 231.6L544.7 232.0L546.2 232.2L547.8 232.1L549.4 232.5L550.9 232.8L552.5 232.9L554.0 233.1L555.6 233.3L557.2 233.5L558.7 233.7L560.3 233.9L561.8 233.9L563.4 234.1L564.9 234.1L566.5 234.3L568.1 234.4L569.6 234.3L571.2 234.7L572.7 234.6L574.3 234.8L575.9 234.8L577.4 234.9L579.0 235.1L580.5 235.1L582.1 235.4L583.6 235.6L585.2 235.5L586.8 235.5L588.3 235.8L589.9 235.9L591.4 235.7L593.0 235.9L594.6 236.2L596.1 236.1L597.7 236.3L599.2 236.1L600.8 236.4L602.3 236.2L603.9 236.4L605.5 236.7L607.0 236.7L608.6 236.6L610.1 236.7L611.7 236.9L613.3 237.1L614.8 237.1L616.4 237.2L617.9 237.3L619.5 237.2L621.0 237.2L622.6 237.4L624.1 237.3L625.7 237.3L627.2 237.3L628.8 237.6L630.3 237.7L631.9 237.5L633.4 237.8L635.0 237.9L636.5 237.7L638.1 238.0L639.6 237.8L641.2 237.9L642.7 238.1L644.3 238.1L645.8 238.2L647.4 238.2L648.9 238.1L650.5 238.3L652.1 238.4L653.6 238.2L655.2 238.4L656.8 238.4L658.3 238.4L659.9 238.6L661.5 238.6L663.0 238.4L664.6 238.4L666.2 238.6L667.7 238.6L669.3 238.8L670.9 238.7L672.5 238.7L674.0 238.7L675.6 238.8L677.2 238.8L678.7 238.6L680.3 238.7L681.9 238.9" stroke="#7CB572" stroke-width="5.8" fill="none" stroke-linejoin="round" stroke-linecap="round"/>
</g>
<line x1="535.6" y1="80.6" x2="432" y2="112.8" stroke="#7CB572" stroke-width="2.5" stroke-linecap="round"/>
<path d="M421.5 117.0 L432.8 106.4 L436.6 119.9 Z" fill="#7CB572" stroke="#7CB572" stroke-width="1.4" stroke-linejoin="round"/>
<rect x="323.90" y="62.60" width="326.30" height="233.20" fill="none" stroke="#262626" stroke-width="3"/>
<line x1="307.6" y1="295.73" x2="323.90" y2="295.73" stroke="#262626" stroke-width="3"/>
<text x="298.3" y="306.73" font-size="30.5" text-anchor="end" fill="#262626">20</text>
<line x1="307.6" y1="202.50" x2="323.90" y2="202.50" stroke="#262626" stroke-width="3"/>
<text x="298.3" y="213.50" font-size="30.5" text-anchor="end" fill="#262626">40</text>
<line x1="307.6" y1="109.27" x2="323.90" y2="109.27" stroke="#262626" stroke-width="3"/>
<text x="298.3" y="120.27" font-size="30.5" text-anchor="end" fill="#262626">60</text>
<line x1="343.32" y1="295.80" x2="343.32" y2="311.8" stroke="#262626" stroke-width="3"/>
<text x="343.32" y="343.7" font-size="30.5" text-anchor="middle" fill="#262626">0</text>
<line x1="535.02" y1="295.80" x2="535.02" y2="311.8" stroke="#262626" stroke-width="3"/>
<text x="535.02" y="343.7" font-size="30.5" text-anchor="middle" fill="#262626">5</text>
<rect x="881.70" y="257.00" width="213.80" height="291.50" fill="#fff"/>
<g clip-path="url(#cb)">
<path d="M860.5 450.5L861.6 451.1L862.7 450.9L863.7 450.8L864.8 450.0L865.9 450.5L866.9 450.3L868.0 451.0L869.1 450.5L870.1 450.1L871.2 450.5L872.3 450.0L873.3 450.1L874.4 450.7L875.5 451.2L876.5 450.2L877.6 451.0L878.7 451.2L879.7 450.3L880.8 450.1L881.9 450.2L882.9 450.0L884.0 450.9L885.1 451.1L886.1 451.1L887.2 450.0L888.3 451.1L889.4 451.0L890.4 451.2L891.5 451.2L892.6 451.2L893.6 450.8L894.7 451.0L895.8 450.8L896.8 450.1L897.9 451.0L899.0 450.2L900.0 450.3L901.1 450.5L902.2 450.5L903.2 450.3L904.3 450.5L905.4 451.0L906.4 450.8L907.5 450.9L908.6 450.7L909.6 450.0L910.7 450.7L911.8 451.2L912.8 450.7L913.9 450.2L915.0 450.7L916.0 450.4L917.1 451.2L918.2 451.2L919.3 450.4L920.3 451.2L921.4 450.9L922.5 450.8L923.5 451.0L924.6 451.2L925.7 451.3L926.7 450.1L927.8 450.4L928.9 450.1L929.9 450.7L931.0 450.1L932.1 450.2L933.1 450.5L934.2 450.6L935.3 450.7L936.3 451.0L937.4 450.8L938.5 450.4L939.5 451.1L940.6 450.3L941.7 450.7L942.7 450.6L943.8 450.7L945.0 450.7L946.3 451.3L947.5 452.3L948.7 452.5L949.9 453.2L951.1 453.5L952.4 453.3L953.4 453.4L954.5 454.5L955.6 454.6L956.6 455.5L957.7 456.8L958.8 456.6L959.8 457.3L960.9 458.5L962.2 457.7L963.5 457.4L964.7 456.4L966.0 455.8L967.3 454.6L968.6 454.1L969.9 453.8L971.2 452.4L972.4 451.4L973.7 451.3L974.8 451.7L975.9 450.9L976.9 451.1L978.0 451.2L979.1 450.6L980.1 451.2L981.2 450.6L982.3 451.5L983.3 450.3L984.4 451.2L985.5 451.4L986.5 450.3L987.6 450.7L988.7 455.9L989.3 465.6L991.1 419.0L993.0 302.3L994.1 275.1L995.4 286.1L996.7 315.3L998.4 321.3L998.6 321.3" stroke="#AA1C3E" stroke-width="4.0" fill="none" stroke-linejoin="round" stroke-linecap="round"/>
<path d="M998.3 321.3L999.4 321.3L1000.4 321.3L1001.5 321.3L1002.6 321.3L1003.7 321.3L1004.7 321.3L1005.8 321.3L1006.9 321.3L1008.0 321.3L1009.1 321.3L1010.1 321.3L1011.2 321.3L1012.3 321.3L1013.4 321.3L1014.4 321.3L1015.5 321.3L1016.6 321.3L1017.7 321.3L1018.8 321.3L1019.8 321.3L1020.9 321.3L1022.0 321.3L1023.1 321.3L1024.1 321.3L1025.2 321.3L1026.3 321.3L1027.4 321.3L1028.5 321.3L1029.5 321.3L1030.6 321.3L1031.7 321.3L1032.8 321.3L1033.8 321.3L1034.9 321.3L1036.0 321.3L1037.1 321.3L1038.1 321.3L1039.2 321.3L1040.3 321.3L1041.4 321.3L1042.5 321.3L1043.5 321.3L1044.6 321.3L1045.7 321.3L1046.8 321.3L1047.8 321.3L1048.9 321.3L1050.0 321.3L1051.1 321.3L1052.2 321.3L1053.2 321.3L1054.3 321.3L1055.4 321.3L1056.5 321.3L1057.5 321.3L1058.6 321.3L1059.7 321.3L1060.8 321.3L1061.9 321.3L1062.9 321.3L1064.0 321.3L1065.1 321.3L1066.2 321.3L1067.2 321.3L1068.3 321.3L1069.4 321.3L1070.5 321.3L1071.6 321.3L1072.6 321.3L1073.7 321.3L1074.8 321.3L1075.9 321.3L1076.9 321.3L1078.0 321.3L1079.1 321.3L1080.2 321.3L1081.3 321.3L1082.3 321.3L1083.4 321.3L1084.5 321.3L1085.6 321.3L1086.6 321.3L1087.7 321.3L1088.8 321.3L1089.9 321.3L1091.0 321.3L1092.0 321.3L1093.1 321.3L1094.2 321.3L1095.3 321.3L1096.3 321.3L1097.4 321.3L1098.5 321.3L1099.6 321.3L1100.6 321.3L1101.7 321.3L1102.8 321.3L1103.9 321.3L1105.0 321.3L1106.0 321.3L1107.1 321.3L1108.2 321.3L1109.3 321.3L1110.3 321.3L1111.4 321.3L1112.5 321.3L1113.6 321.3L1114.7 321.3L1115.7 321.3L1116.8 321.3" stroke="#AA1C3E" stroke-width="4.0" fill="none" stroke-linejoin="round" stroke-linecap="round"/>
<path d="M860.5 484.1L861.6 484.0L862.7 483.9L863.7 483.3L864.8 483.2L865.9 483.2L866.9 484.4L868.0 483.1L869.1 484.3L870.1 484.6L871.2 485.1L872.3 484.1L873.3 484.9L874.4 484.7L875.5 483.9L876.5 483.5L877.6 483.6L878.7 485.1L879.7 485.2L880.8 484.7L881.9 484.0L882.9 483.4L884.0 483.5L885.1 483.2L886.1 484.0L887.2 483.9L888.3 484.7L889.4 484.6L890.4 484.9L891.5 484.1L892.6 483.9L893.6 484.0L894.7 484.5L895.8 484.4L896.8 484.8L897.9 483.5L899.0 484.0L900.0 483.6L901.1 483.5L902.2 484.7L903.2 485.1L904.3 484.7L905.4 483.3L906.4 483.6L907.5 484.5L908.6 483.6L909.6 484.6L910.7 483.4L911.8 485.2L912.8 483.7L913.9 483.2L915.0 484.5L916.0 484.4L917.1 485.1L918.2 484.8L919.3 484.9L920.3 484.8L921.4 485.3L922.5 484.8L923.5 485.2L924.6 484.3L925.7 484.5L926.7 485.0L927.8 483.3L928.9 484.8L929.9 484.3L931.0 483.4L932.1 483.7L933.1 483.3L934.2 484.1L935.3 483.5L936.3 485.4L937.4 483.8L938.5 484.7L939.5 484.8L940.6 483.7L941.7 483.8L942.7 484.7L943.8 484.7L944.9 484.9L946.0 484.4L947.0 483.9L948.1 485.1L949.2 486.4L950.2 486.3L951.3 487.8L952.4 487.8L953.4 487.8L954.5 488.3L955.7 487.9L956.8 488.9L958.0 490.4L959.2 490.6L960.4 492.5L961.5 492.7L962.7 491.4L963.8 489.8L965.0 491.0L966.1 488.3L967.2 487.3L968.4 487.6L969.4 487.5L970.5 486.0L971.6 485.2L972.6 486.7L973.7 485.6L974.8 484.9L975.9 484.6L976.9 484.0L978.0 485.2L979.1 484.1L980.2 484.2L981.2 483.8L982.3 484.1L983.4 483.8L984.5 484.4L985.5 484.5L986.6 484.7L987.7 484.9L988.8 484.7L989.8 484.6L991.1 431.9L993.0 315.3L994.1 289.4L995.4 302.3L996.5 316.9L997.5 331.5L999.2 336.3L1000.4 337.1L1001.5 338.1L1002.7 336.8L1003.8 338.3L1005.0 336.6L1006.1 337.3L1007.2 335.7L1008.4 336.4L1009.5 334.8L1010.7 334.9L1011.9 335.6L1013.0 334.0L1014.2 333.9L1015.4 333.2L1016.6 334.0L1017.8 334.2L1019.0 333.6L1020.2 333.6L1021.4 332.8L1022.7 333.3L1023.9 333.1L1025.1 331.6L1026.3 335.0L1027.5 334.4L1028.9 336.9L1030.2 338.1L1031.6 338.6L1032.8 339.7L1034.0 340.3L1035.2 341.8L1036.4 343.7L1037.6 345.3L1038.8 346.0L1040.1 346.6L1041.3 345.9L1042.6 348.7L1043.8 348.1L1045.1 348.7L1046.2 348.3L1047.4 347.8L1048.6 346.8L1049.8 346.7L1051.0 345.3L1052.1 344.3L1053.2 344.9L1054.3 344.8L1055.4 343.7L1056.5 342.8L1057.7 342.0L1058.8 341.6L1059.9 340.0L1061.1 340.8L1062.2 338.8L1063.3 338.5L1064.5 338.6L1065.6 335.6L1066.8 338.7L1067.9 337.0L1069.0 336.4L1070.2 337.9L1071.3 336.9L1072.5 336.4L1073.7 336.7L1074.9 337.1L1076.1 335.6L1077.3 336.9L1078.5 336.2L1079.7 336.1L1080.8 336.7L1081.9 337.1L1083.1 336.2L1084.2 337.3L1085.3 336.1L1086.5 336.6L1087.7 336.6L1088.9 337.8L1090.2 339.9L1091.4 339.5L1092.6 340.6L1093.8 340.0L1095.0 340.4L1096.2 338.3L1097.3 339.0L1098.5 339.1L1099.7 339.3L1100.9 339.8L1102.0 338.5L1103.1 338.8L1104.3 338.2L1105.4 338.3L1106.6 339.2L1107.7 340.2L1108.8 339.3L1110.0 340.4L1111.1 339.6L1112.3 340.2L1113.4 338.5L1114.5 336.7L1115.7 339.0L1116.8 339.2" stroke="#6A85C6" stroke-width="5.2" fill="none" stroke-linejoin="round" stroke-linecap="round"/>
<path d="M860.5 506.3L861.6 506.3L862.7 506.0L863.7 506.1L864.8 505.9L865.9 506.6L866.9 505.8L868.0 506.3L869.1 506.1L870.1 506.1L871.2 505.8L872.3 506.7L873.3 506.6L874.4 506.1L875.5 506.3L876.5 506.1L877.6 506.6L878.7 505.8L879.7 507.0L880.8 506.1L881.9 506.4L882.9 506.6L884.0 507.0L885.1 506.2L886.1 507.0L887.2 506.8L888.3 506.7L889.4 506.9L890.4 506.9L891.5 507.0L892.6 506.0L893.6 507.0L894.7 506.9L895.8 507.0L896.8 506.0L897.9 506.4L899.0 506.1L900.0 505.9L901.1 506.5L902.2 506.7L903.2 506.7L904.3 506.8L905.4 506.4L906.4 506.0L907.5 506.5L908.6 506.2L909.6 506.1L910.7 506.2L911.8 506.4L912.8 506.5L913.9 507.1L915.0 506.7L916.0 506.2L917.1 506.7L918.2 506.4L919.3 506.9L920.3 506.5L921.4 507.0L922.5 506.3L923.5 506.2L924.6 507.2L925.7 506.4L926.7 507.2L927.8 506.1L928.9 507.1L929.9 507.1L931.0 506.2L932.1 506.5L933.1 507.3L934.2 506.7L935.3 506.3L936.3 507.1L937.4 506.4L938.5 507.0L939.5 506.8L940.6 506.9L941.7 507.3L942.7 506.9L943.8 506.7L945.0 507.1L946.3 507.4L947.5 507.9L948.7 508.8L949.9 508.7L951.1 509.5L952.4 509.7L953.5 509.6L954.6 511.0L955.7 510.6L956.8 511.9L957.9 511.7L959.0 512.4L960.2 512.7L961.3 512.9L962.4 513.5L963.5 512.5L964.7 512.9L965.8 511.1L967.0 510.8L968.1 510.8L969.2 509.7L970.4 509.0L971.6 508.5L972.8 508.7L973.9 507.7L975.1 508.2L976.3 507.4L977.5 507.3L978.6 506.6L979.8 506.1L980.9 506.7L982.1 506.7L983.2 505.7L984.4 506.4L985.6 506.2L986.7 505.9L987.9 506.4L989.0 505.6L990.2 505.7L991.3 505.8L992.8 483.7L994.1 354.2L995.0 301.7L996.2 316.6L998.0 347.7L999.2 352.9L1000.4 352.5L1001.5 351.7L1002.7 351.2L1003.8 351.2L1005.0 351.6L1006.1 350.4L1007.2 350.8L1008.4 350.4L1009.5 350.4L1010.7 350.5L1011.9 349.2L1013.2 348.8L1014.5 348.8L1015.8 347.8L1017.0 348.1L1018.2 347.6L1019.4 347.6L1020.6 347.5L1021.7 347.0L1022.9 346.9L1024.1 346.7L1025.3 346.6L1026.4 345.9L1027.5 346.5L1028.7 345.9L1029.8 345.6L1031.0 345.3L1032.2 344.8L1033.4 344.1L1034.6 344.0L1035.9 343.7L1037.1 343.5L1038.4 341.9L1039.7 341.3L1041.0 340.3L1042.2 340.3L1043.4 340.1L1044.6 340.5L1045.8 339.7L1046.9 340.2L1048.1 340.2L1049.3 340.0L1050.5 339.7L1051.7 340.1L1052.9 339.6L1054.1 338.6L1055.3 339.5L1056.5 338.9L1057.7 338.6L1058.8 338.4L1059.9 338.9L1061.1 338.9L1062.2 338.8L1063.3 338.9L1064.5 339.5L1065.6 339.9L1066.8 340.2L1067.9 340.9L1069.0 340.3L1070.2 341.3L1071.3 341.1L1072.9 343.7L1074.5 346.3L1075.6 346.8L1076.7 346.1L1077.7 346.6L1078.8 347.1L1079.9 346.6L1080.9 347.3L1082.0 347.1L1083.1 347.0L1084.3 347.5L1085.5 347.1L1086.8 347.5L1088.0 347.8L1089.2 347.9L1090.4 347.4L1091.6 346.9L1092.8 346.2L1094.0 346.3L1095.0 346.4L1096.1 345.9L1097.2 346.7L1098.3 346.6L1099.4 345.7L1100.5 346.2L1101.6 346.5L1102.7 346.3L1103.8 346.0L1104.8 346.3L1105.9 345.9L1107.0 345.1L1108.1 346.2L1109.2 345.8L1110.3 345.8L1111.4 346.0L1112.5 345.0L1113.5 345.8L1114.6 345.8L1115.7 345.5L1116.8 345.4" stroke="#7CB572" stroke-width="5.8" fill="none" stroke-linejoin="round" stroke-linecap="round"/>
</g>
<rect x="881.70" y="257.00" width="213.80" height="291.50" fill="none" stroke="#262626" stroke-width="3"/>
<line x1="865.2" y1="483.74" x2="881.70" y2="483.74" stroke="#262626" stroke-width="3"/>
<text x="856.6" y="494.74" font-size="30.5" text-anchor="end" fill="#262626">40</text>
<line x1="865.2" y1="354.16" x2="881.70" y2="354.16" stroke="#262626" stroke-width="3"/>
<text x="856.6" y="365.16" font-size="30.5" text-anchor="end" fill="#262626">60</text>
<line x1="945.95" y1="548.50" x2="945.95" y2="564.3" stroke="#262626" stroke-width="3"/>
<text x="945.95" y="595.5" font-size="30.5" text-anchor="middle" fill="#262626">95</text>
<line x1="1052.74" y1="548.50" x2="1052.74" y2="564.3" stroke="#262626" stroke-width="3"/>
<text x="1052.74" y="595.5" font-size="30.5" text-anchor="middle" fill="#262626">100</text>
</svg>
</body></html>
